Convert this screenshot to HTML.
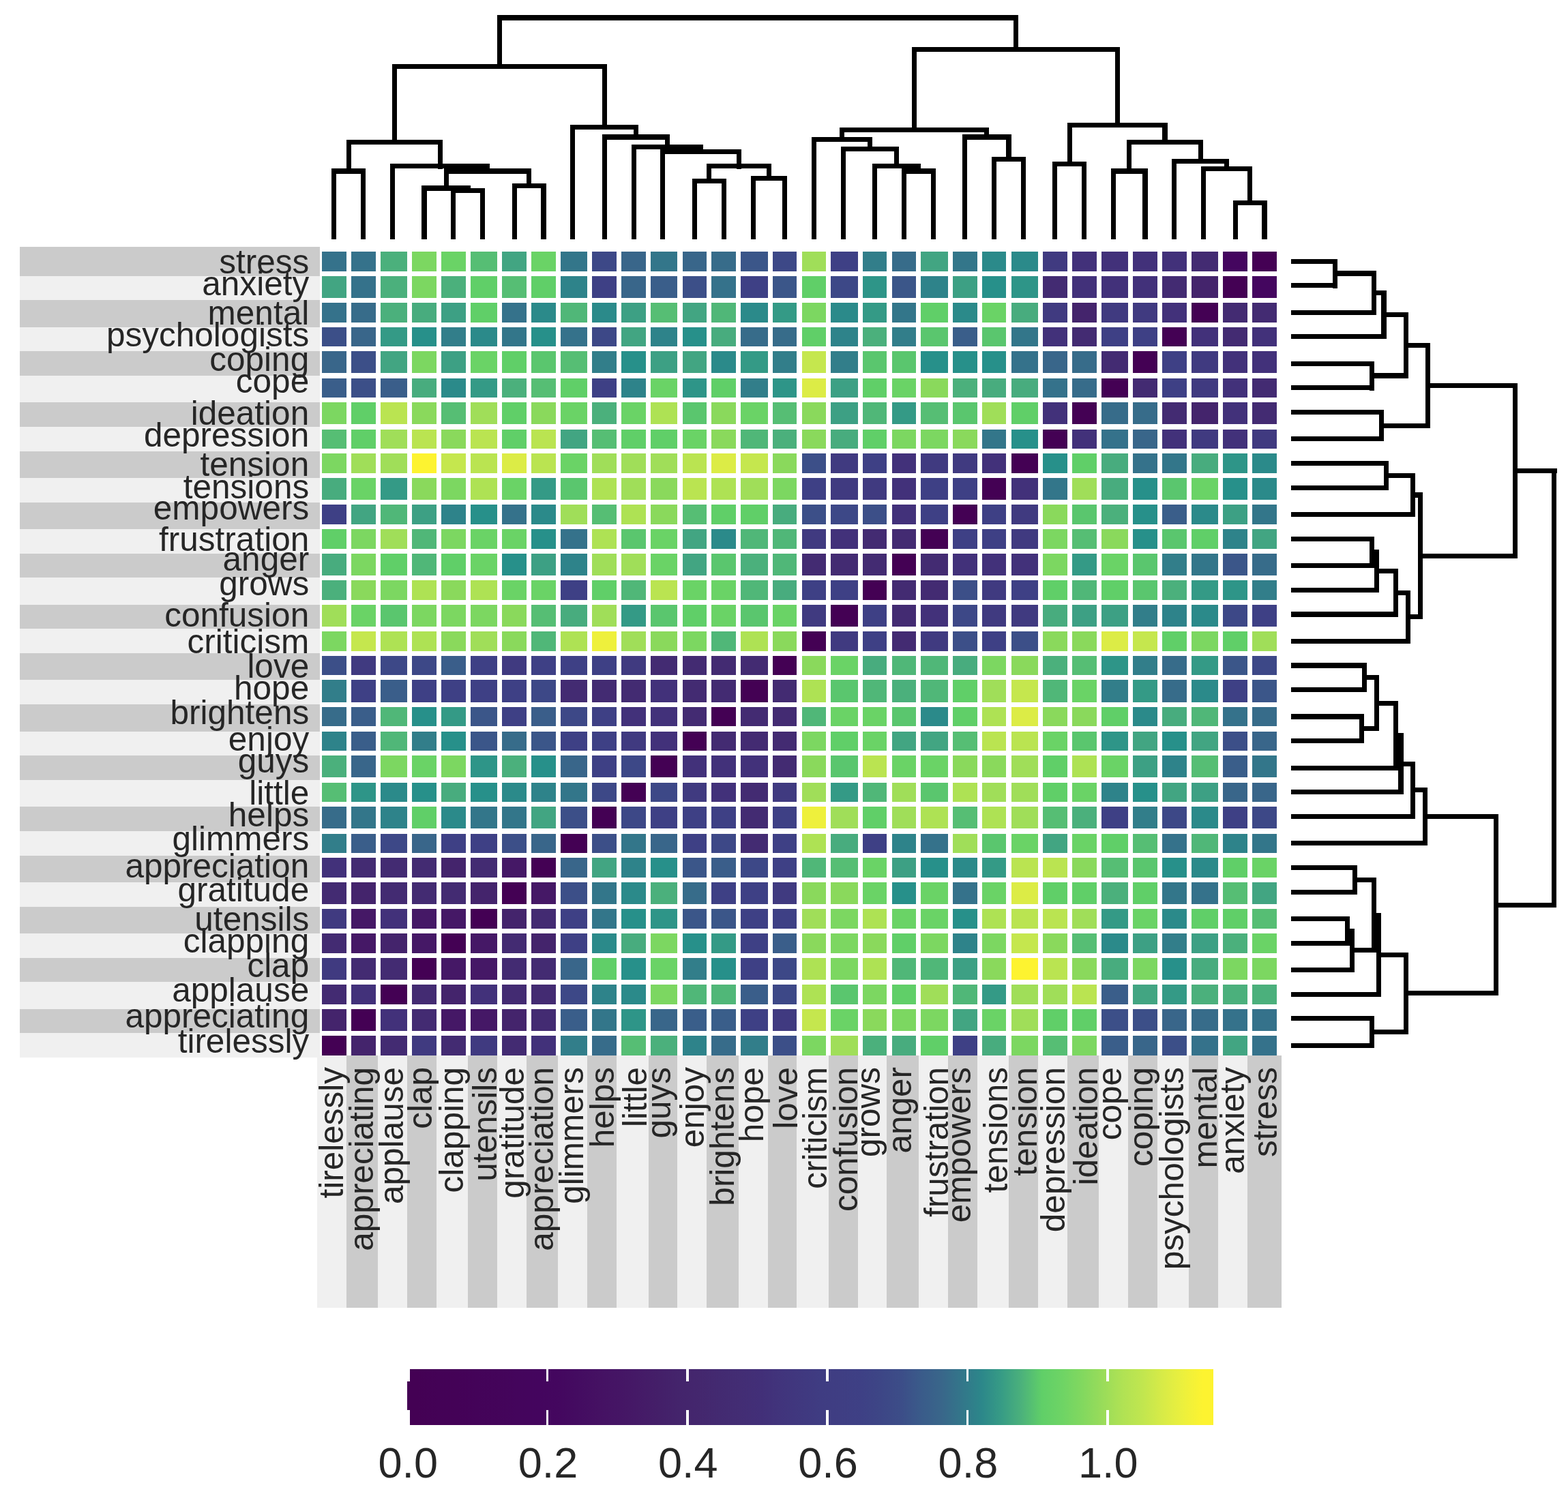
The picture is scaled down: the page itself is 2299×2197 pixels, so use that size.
<!DOCTYPE html>
<html lang="en"><head><meta charset="utf-8"><title>Clustered heatmap</title>
<style>html,body{margin:0;padding:0;background:#fff}svg{display:block}text{font-family:"Liberation Sans",sans-serif;fill:#262626}</style></head><body>
<svg width="2299" height="2197" viewBox="0 0 2299 2197">
<rect width="2299" height="2197" fill="#fff"/>
<g shape-rendering="crispEdges">
<rect x="29.3" y="361.7" width="439.2" height="42.9" fill="#cbcbcb"/>
<rect x="29.3" y="404.6" width="439.2" height="35.7" fill="#f0f0f0"/>
<rect x="29.3" y="440.3" width="439.2" height="39.3" fill="#cbcbcb"/>
<rect x="29.3" y="479.6" width="439.2" height="35.7" fill="#f0f0f0"/>
<rect x="29.3" y="515.3" width="439.2" height="35.7" fill="#cbcbcb"/>
<rect x="29.3" y="551.0" width="439.2" height="39.3" fill="#f0f0f0"/>
<rect x="29.3" y="590.3" width="439.2" height="35.7" fill="#cbcbcb"/>
<rect x="29.3" y="626.0" width="439.2" height="35.7" fill="#f0f0f0"/>
<rect x="29.3" y="661.7" width="439.2" height="39.3" fill="#cbcbcb"/>
<rect x="29.3" y="701.0" width="439.2" height="35.7" fill="#f0f0f0"/>
<rect x="29.3" y="736.7" width="439.2" height="39.3" fill="#cbcbcb"/>
<rect x="29.3" y="776.0" width="439.2" height="35.7" fill="#f0f0f0"/>
<rect x="29.3" y="811.7" width="439.2" height="35.7" fill="#cbcbcb"/>
<rect x="29.3" y="847.4" width="439.2" height="39.3" fill="#f0f0f0"/>
<rect x="29.3" y="886.7" width="439.2" height="35.7" fill="#cbcbcb"/>
<rect x="29.3" y="922.4" width="439.2" height="35.7" fill="#f0f0f0"/>
<rect x="29.3" y="958.2" width="439.2" height="39.3" fill="#cbcbcb"/>
<rect x="29.3" y="997.4" width="439.2" height="35.7" fill="#f0f0f0"/>
<rect x="29.3" y="1033.2" width="439.2" height="39.3" fill="#cbcbcb"/>
<rect x="29.3" y="1072.5" width="439.2" height="35.7" fill="#f0f0f0"/>
<rect x="29.3" y="1108.2" width="439.2" height="35.7" fill="#cbcbcb"/>
<rect x="29.3" y="1143.9" width="439.2" height="39.3" fill="#f0f0f0"/>
<rect x="29.3" y="1183.2" width="439.2" height="35.7" fill="#cbcbcb"/>
<rect x="29.3" y="1218.9" width="439.2" height="35.7" fill="#f0f0f0"/>
<rect x="29.3" y="1254.6" width="439.2" height="39.3" fill="#cbcbcb"/>
<rect x="29.3" y="1293.9" width="439.2" height="35.7" fill="#f0f0f0"/>
<rect x="29.3" y="1329.6" width="439.2" height="39.3" fill="#cbcbcb"/>
<rect x="29.3" y="1368.9" width="439.2" height="35.7" fill="#f0f0f0"/>
<rect x="29.3" y="1404.6" width="439.2" height="35.7" fill="#cbcbcb"/>
<rect x="29.3" y="1440.3" width="439.2" height="39.3" fill="#f0f0f0"/>
<rect x="29.3" y="1479.6" width="439.2" height="35.7" fill="#cbcbcb"/>
<rect x="29.3" y="1515.3" width="439.2" height="35.7" fill="#f0f0f0"/>
<rect x="464.8" y="1547.6" width="42.9" height="370.8" fill="#f0f0f0"/>
<rect x="507.7" y="1547.6" width="46.4" height="370.8" fill="#cbcbcb"/>
<rect x="554.1" y="1547.6" width="42.9" height="370.8" fill="#f0f0f0"/>
<rect x="597.0" y="1547.6" width="42.9" height="370.8" fill="#cbcbcb"/>
<rect x="639.8" y="1547.6" width="46.4" height="370.8" fill="#f0f0f0"/>
<rect x="686.2" y="1547.6" width="42.9" height="370.8" fill="#cbcbcb"/>
<rect x="729.1" y="1547.6" width="42.9" height="370.8" fill="#f0f0f0"/>
<rect x="771.9" y="1547.6" width="46.4" height="370.8" fill="#cbcbcb"/>
<rect x="818.4" y="1547.6" width="42.9" height="370.8" fill="#f0f0f0"/>
<rect x="861.2" y="1547.6" width="42.9" height="370.8" fill="#cbcbcb"/>
<rect x="904.1" y="1547.6" width="46.4" height="370.8" fill="#f0f0f0"/>
<rect x="950.5" y="1547.6" width="42.9" height="370.8" fill="#cbcbcb"/>
<rect x="993.3" y="1547.6" width="42.9" height="370.8" fill="#f0f0f0"/>
<rect x="1036.2" y="1547.6" width="46.4" height="370.8" fill="#cbcbcb"/>
<rect x="1082.6" y="1547.6" width="42.9" height="370.8" fill="#f0f0f0"/>
<rect x="1125.5" y="1547.6" width="42.9" height="370.8" fill="#cbcbcb"/>
<rect x="1168.3" y="1547.6" width="46.4" height="370.8" fill="#f0f0f0"/>
<rect x="1214.7" y="1547.6" width="42.9" height="370.8" fill="#cbcbcb"/>
<rect x="1257.6" y="1547.6" width="42.9" height="370.8" fill="#f0f0f0"/>
<rect x="1300.4" y="1547.6" width="46.4" height="370.8" fill="#cbcbcb"/>
<rect x="1346.9" y="1547.6" width="42.9" height="370.8" fill="#f0f0f0"/>
<rect x="1389.7" y="1547.6" width="42.9" height="370.8" fill="#cbcbcb"/>
<rect x="1432.6" y="1547.6" width="46.4" height="370.8" fill="#f0f0f0"/>
<rect x="1479.0" y="1547.6" width="42.9" height="370.8" fill="#cbcbcb"/>
<rect x="1521.8" y="1547.6" width="42.9" height="370.8" fill="#f0f0f0"/>
<rect x="1564.7" y="1547.6" width="46.4" height="370.8" fill="#cbcbcb"/>
<rect x="1611.1" y="1547.6" width="42.9" height="370.8" fill="#f0f0f0"/>
<rect x="1654.0" y="1547.6" width="42.9" height="370.8" fill="#cbcbcb"/>
<rect x="1696.8" y="1547.6" width="46.4" height="370.8" fill="#f0f0f0"/>
<rect x="1743.2" y="1547.6" width="42.9" height="370.8" fill="#cbcbcb"/>
<rect x="1786.1" y="1547.6" width="42.9" height="370.8" fill="#f0f0f0"/>
<rect x="1829.0" y="1547.6" width="50.0" height="370.8" fill="#cbcbcb"/>
</g>
<g shape-rendering="crispEdges">
<rect x="472.0" y="368.9" width="35.7" height="28.6" fill="#35728b"/>
<rect x="514.8" y="368.9" width="35.7" height="28.6" fill="#35728b"/>
<rect x="557.7" y="368.9" width="39.3" height="28.6" fill="#4bb07c"/>
<rect x="604.1" y="368.9" width="35.7" height="28.6" fill="#7cd761"/>
<rect x="647.0" y="368.9" width="35.7" height="28.6" fill="#6ad366"/>
<rect x="689.8" y="368.9" width="39.3" height="28.6" fill="#56be74"/>
<rect x="736.2" y="368.9" width="35.7" height="28.6" fill="#42a582"/>
<rect x="779.1" y="368.9" width="35.7" height="28.6" fill="#6ad366"/>
<rect x="821.9" y="368.9" width="39.3" height="28.6" fill="#33768a"/>
<rect x="868.4" y="368.9" width="35.7" height="28.6" fill="#3d4887"/>
<rect x="911.2" y="368.9" width="35.7" height="28.6" fill="#39668a"/>
<rect x="954.1" y="368.9" width="39.3" height="28.6" fill="#33768a"/>
<rect x="1000.5" y="368.9" width="35.7" height="28.6" fill="#39668a"/>
<rect x="1043.3" y="368.9" width="35.7" height="28.6" fill="#376c8a"/>
<rect x="1086.2" y="368.9" width="39.3" height="28.6" fill="#3b5689"/>
<rect x="1132.6" y="368.9" width="35.7" height="28.6" fill="#3d4887"/>
<rect x="1175.5" y="368.9" width="35.7" height="28.6" fill="#a0de59"/>
<rect x="1218.3" y="368.9" width="39.3" height="28.6" fill="#3e4085"/>
<rect x="1264.7" y="368.9" width="35.7" height="28.6" fill="#327e8a"/>
<rect x="1307.6" y="368.9" width="35.7" height="28.6" fill="#376c8a"/>
<rect x="1350.4" y="368.9" width="39.3" height="28.6" fill="#42a582"/>
<rect x="1396.9" y="368.9" width="35.7" height="28.6" fill="#33768a"/>
<rect x="1439.7" y="368.9" width="35.7" height="28.6" fill="#2b8a8a"/>
<rect x="1482.6" y="368.9" width="39.3" height="28.6" fill="#2b8a8a"/>
<rect x="1529.0" y="368.9" width="35.7" height="28.6" fill="#403a80"/>
<rect x="1571.8" y="368.9" width="35.7" height="28.6" fill="#42317a"/>
<rect x="1614.7" y="368.9" width="39.3" height="28.6" fill="#42317a"/>
<rect x="1661.1" y="368.9" width="35.7" height="28.6" fill="#42317a"/>
<rect x="1704.0" y="368.9" width="35.7" height="28.6" fill="#42317a"/>
<rect x="1746.8" y="368.9" width="39.3" height="28.6" fill="#432b72"/>
<rect x="1793.2" y="368.9" width="35.7" height="28.6" fill="#44065f"/>
<rect x="1836.1" y="368.9" width="35.7" height="28.6" fill="#440154"/>
<rect x="472.0" y="404.6" width="35.7" height="32.1" fill="#42a582"/>
<rect x="514.8" y="404.6" width="35.7" height="32.1" fill="#35728b"/>
<rect x="557.7" y="404.6" width="39.3" height="32.1" fill="#4bb07c"/>
<rect x="604.1" y="404.6" width="35.7" height="32.1" fill="#7cd761"/>
<rect x="647.0" y="404.6" width="35.7" height="32.1" fill="#4bb07c"/>
<rect x="689.8" y="404.6" width="39.3" height="32.1" fill="#60cf68"/>
<rect x="736.2" y="404.6" width="35.7" height="32.1" fill="#56be74"/>
<rect x="779.1" y="404.6" width="35.7" height="32.1" fill="#60cf68"/>
<rect x="821.9" y="404.6" width="39.3" height="32.1" fill="#2e838a"/>
<rect x="868.4" y="404.6" width="35.7" height="32.1" fill="#3e4085"/>
<rect x="911.2" y="404.6" width="35.7" height="32.1" fill="#39668a"/>
<rect x="954.1" y="404.6" width="39.3" height="32.1" fill="#3a5e8a"/>
<rect x="1000.5" y="404.6" width="35.7" height="32.1" fill="#3c4f88"/>
<rect x="1043.3" y="404.6" width="35.7" height="32.1" fill="#35728b"/>
<rect x="1086.2" y="404.6" width="39.3" height="32.1" fill="#3e4085"/>
<rect x="1132.6" y="404.6" width="35.7" height="32.1" fill="#3b5689"/>
<rect x="1175.5" y="404.6" width="35.7" height="32.1" fill="#60cf68"/>
<rect x="1218.3" y="404.6" width="39.3" height="32.1" fill="#3d4887"/>
<rect x="1264.7" y="404.6" width="35.7" height="32.1" fill="#2e9588"/>
<rect x="1307.6" y="404.6" width="35.7" height="32.1" fill="#3b5689"/>
<rect x="1350.4" y="404.6" width="39.3" height="32.1" fill="#2e838a"/>
<rect x="1396.9" y="404.6" width="35.7" height="32.1" fill="#3da084"/>
<rect x="1439.7" y="404.6" width="35.7" height="32.1" fill="#27908a"/>
<rect x="1482.6" y="404.6" width="39.3" height="32.1" fill="#2e9588"/>
<rect x="1529.0" y="404.6" width="35.7" height="32.1" fill="#432b72"/>
<rect x="1571.8" y="404.6" width="35.7" height="32.1" fill="#42317a"/>
<rect x="1614.7" y="404.6" width="39.3" height="32.1" fill="#42317a"/>
<rect x="1661.1" y="404.6" width="35.7" height="32.1" fill="#42317a"/>
<rect x="1704.0" y="404.6" width="35.7" height="32.1" fill="#432b72"/>
<rect x="1746.8" y="404.6" width="39.3" height="32.1" fill="#44246c"/>
<rect x="1793.2" y="404.6" width="35.7" height="32.1" fill="#440154"/>
<rect x="1836.1" y="404.6" width="35.7" height="32.1" fill="#44065f"/>
<rect x="472.0" y="443.9" width="35.7" height="28.6" fill="#35728b"/>
<rect x="514.8" y="443.9" width="35.7" height="28.6" fill="#376c8a"/>
<rect x="557.7" y="443.9" width="39.3" height="28.6" fill="#4bb07c"/>
<rect x="604.1" y="443.9" width="35.7" height="28.6" fill="#48ac7e"/>
<rect x="647.0" y="443.9" width="35.7" height="28.6" fill="#3da084"/>
<rect x="689.8" y="443.9" width="39.3" height="28.6" fill="#60cf68"/>
<rect x="736.2" y="443.9" width="35.7" height="28.6" fill="#35728b"/>
<rect x="779.1" y="443.9" width="35.7" height="28.6" fill="#2b8a8a"/>
<rect x="821.9" y="443.9" width="39.3" height="28.6" fill="#50b778"/>
<rect x="868.4" y="443.9" width="35.7" height="28.6" fill="#2b8a8a"/>
<rect x="911.2" y="443.9" width="35.7" height="28.6" fill="#3da084"/>
<rect x="954.1" y="443.9" width="39.3" height="28.6" fill="#56be74"/>
<rect x="1000.5" y="443.9" width="35.7" height="28.6" fill="#42a582"/>
<rect x="1043.3" y="443.9" width="35.7" height="28.6" fill="#50b778"/>
<rect x="1086.2" y="443.9" width="39.3" height="28.6" fill="#2b8a8a"/>
<rect x="1132.6" y="443.9" width="35.7" height="28.6" fill="#349a86"/>
<rect x="1175.5" y="443.9" width="35.7" height="28.6" fill="#7cd761"/>
<rect x="1218.3" y="443.9" width="39.3" height="28.6" fill="#2b8a8a"/>
<rect x="1264.7" y="443.9" width="35.7" height="28.6" fill="#349a86"/>
<rect x="1307.6" y="443.9" width="35.7" height="28.6" fill="#33768a"/>
<rect x="1350.4" y="443.9" width="39.3" height="28.6" fill="#60cf68"/>
<rect x="1396.9" y="443.9" width="35.7" height="28.6" fill="#2b8a8a"/>
<rect x="1439.7" y="443.9" width="35.7" height="28.6" fill="#6ad366"/>
<rect x="1482.6" y="443.9" width="39.3" height="28.6" fill="#48ac7e"/>
<rect x="1529.0" y="443.9" width="35.7" height="28.6" fill="#403a80"/>
<rect x="1571.8" y="443.9" width="35.7" height="28.6" fill="#44246c"/>
<rect x="1614.7" y="443.9" width="39.3" height="28.6" fill="#403a80"/>
<rect x="1661.1" y="443.9" width="35.7" height="28.6" fill="#403a80"/>
<rect x="1704.0" y="443.9" width="35.7" height="28.6" fill="#42317a"/>
<rect x="1746.8" y="443.9" width="39.3" height="28.6" fill="#440154"/>
<rect x="1793.2" y="443.9" width="35.7" height="28.6" fill="#432b72"/>
<rect x="1836.1" y="443.9" width="35.7" height="28.6" fill="#432b72"/>
<rect x="472.0" y="479.6" width="35.7" height="28.6" fill="#3c4f88"/>
<rect x="514.8" y="479.6" width="35.7" height="28.6" fill="#39668a"/>
<rect x="557.7" y="479.6" width="39.3" height="28.6" fill="#349a86"/>
<rect x="604.1" y="479.6" width="35.7" height="28.6" fill="#27908a"/>
<rect x="647.0" y="479.6" width="35.7" height="28.6" fill="#327e8a"/>
<rect x="689.8" y="479.6" width="39.3" height="28.6" fill="#2b8a8a"/>
<rect x="736.2" y="479.6" width="35.7" height="28.6" fill="#33768a"/>
<rect x="779.1" y="479.6" width="35.7" height="28.6" fill="#27908a"/>
<rect x="821.9" y="479.6" width="39.3" height="28.6" fill="#35728b"/>
<rect x="868.4" y="479.6" width="35.7" height="28.6" fill="#3d4887"/>
<rect x="911.2" y="479.6" width="35.7" height="28.6" fill="#42a582"/>
<rect x="954.1" y="479.6" width="39.3" height="28.6" fill="#2e838a"/>
<rect x="1000.5" y="479.6" width="35.7" height="28.6" fill="#27908a"/>
<rect x="1043.3" y="479.6" width="35.7" height="28.6" fill="#48ac7e"/>
<rect x="1086.2" y="479.6" width="39.3" height="28.6" fill="#376c8a"/>
<rect x="1132.6" y="479.6" width="35.7" height="28.6" fill="#376c8a"/>
<rect x="1175.5" y="479.6" width="35.7" height="28.6" fill="#60cf68"/>
<rect x="1218.3" y="479.6" width="39.3" height="28.6" fill="#2e838a"/>
<rect x="1264.7" y="479.6" width="35.7" height="28.6" fill="#4bb07c"/>
<rect x="1307.6" y="479.6" width="35.7" height="28.6" fill="#327e8a"/>
<rect x="1350.4" y="479.6" width="39.3" height="28.6" fill="#5ac66e"/>
<rect x="1396.9" y="479.6" width="35.7" height="28.6" fill="#3a5e8a"/>
<rect x="1439.7" y="479.6" width="35.7" height="28.6" fill="#5ac66e"/>
<rect x="1482.6" y="479.6" width="39.3" height="28.6" fill="#33768a"/>
<rect x="1529.0" y="479.6" width="35.7" height="28.6" fill="#42317a"/>
<rect x="1571.8" y="479.6" width="35.7" height="28.6" fill="#432b72"/>
<rect x="1614.7" y="479.6" width="39.3" height="28.6" fill="#3e4085"/>
<rect x="1661.1" y="479.6" width="35.7" height="28.6" fill="#3e4085"/>
<rect x="1704.0" y="479.6" width="35.7" height="28.6" fill="#440154"/>
<rect x="1746.8" y="479.6" width="39.3" height="28.6" fill="#42317a"/>
<rect x="1793.2" y="479.6" width="35.7" height="28.6" fill="#432b72"/>
<rect x="1836.1" y="479.6" width="35.7" height="28.6" fill="#42317a"/>
<rect x="472.0" y="515.3" width="35.7" height="32.1" fill="#39668a"/>
<rect x="514.8" y="515.3" width="35.7" height="32.1" fill="#3c4f88"/>
<rect x="557.7" y="515.3" width="39.3" height="32.1" fill="#42a582"/>
<rect x="604.1" y="515.3" width="35.7" height="32.1" fill="#7cd761"/>
<rect x="647.0" y="515.3" width="35.7" height="32.1" fill="#3da084"/>
<rect x="689.8" y="515.3" width="39.3" height="32.1" fill="#6ad366"/>
<rect x="736.2" y="515.3" width="35.7" height="32.1" fill="#60cf68"/>
<rect x="779.1" y="515.3" width="35.7" height="32.1" fill="#5ac66e"/>
<rect x="821.9" y="515.3" width="39.3" height="32.1" fill="#56be74"/>
<rect x="868.4" y="515.3" width="35.7" height="32.1" fill="#327e8a"/>
<rect x="911.2" y="515.3" width="35.7" height="32.1" fill="#27908a"/>
<rect x="954.1" y="515.3" width="39.3" height="32.1" fill="#3da084"/>
<rect x="1000.5" y="515.3" width="35.7" height="32.1" fill="#42a582"/>
<rect x="1043.3" y="515.3" width="35.7" height="32.1" fill="#2b8a8a"/>
<rect x="1086.2" y="515.3" width="39.3" height="32.1" fill="#349a86"/>
<rect x="1132.6" y="515.3" width="35.7" height="32.1" fill="#327e8a"/>
<rect x="1175.5" y="515.3" width="35.7" height="32.1" fill="#c5e74e"/>
<rect x="1218.3" y="515.3" width="39.3" height="32.1" fill="#327e8a"/>
<rect x="1264.7" y="515.3" width="35.7" height="32.1" fill="#5ac66e"/>
<rect x="1307.6" y="515.3" width="35.7" height="32.1" fill="#5ac66e"/>
<rect x="1350.4" y="515.3" width="39.3" height="32.1" fill="#27908a"/>
<rect x="1396.9" y="515.3" width="35.7" height="32.1" fill="#27908a"/>
<rect x="1439.7" y="515.3" width="35.7" height="32.1" fill="#27908a"/>
<rect x="1482.6" y="515.3" width="39.3" height="32.1" fill="#35728b"/>
<rect x="1529.0" y="515.3" width="35.7" height="32.1" fill="#39668a"/>
<rect x="1571.8" y="515.3" width="35.7" height="32.1" fill="#376c8a"/>
<rect x="1614.7" y="515.3" width="39.3" height="32.1" fill="#432b72"/>
<rect x="1661.1" y="515.3" width="35.7" height="32.1" fill="#440154"/>
<rect x="1704.0" y="515.3" width="35.7" height="32.1" fill="#3e4085"/>
<rect x="1746.8" y="515.3" width="39.3" height="32.1" fill="#403a80"/>
<rect x="1793.2" y="515.3" width="35.7" height="32.1" fill="#42317a"/>
<rect x="1836.1" y="515.3" width="35.7" height="32.1" fill="#42317a"/>
<rect x="472.0" y="554.6" width="35.7" height="28.6" fill="#3a5e8a"/>
<rect x="514.8" y="554.6" width="35.7" height="28.6" fill="#3c4f88"/>
<rect x="557.7" y="554.6" width="39.3" height="28.6" fill="#3a5e8a"/>
<rect x="604.1" y="554.6" width="35.7" height="28.6" fill="#48ac7e"/>
<rect x="647.0" y="554.6" width="35.7" height="28.6" fill="#2b8a8a"/>
<rect x="689.8" y="554.6" width="39.3" height="28.6" fill="#349a86"/>
<rect x="736.2" y="554.6" width="35.7" height="28.6" fill="#4bb07c"/>
<rect x="779.1" y="554.6" width="35.7" height="28.6" fill="#56be74"/>
<rect x="821.9" y="554.6" width="39.3" height="28.6" fill="#60cf68"/>
<rect x="868.4" y="554.6" width="35.7" height="28.6" fill="#3e4085"/>
<rect x="911.2" y="554.6" width="35.7" height="28.6" fill="#2e838a"/>
<rect x="954.1" y="554.6" width="39.3" height="28.6" fill="#6ad366"/>
<rect x="1000.5" y="554.6" width="35.7" height="28.6" fill="#2e9588"/>
<rect x="1043.3" y="554.6" width="35.7" height="28.6" fill="#60cf68"/>
<rect x="1086.2" y="554.6" width="39.3" height="28.6" fill="#327e8a"/>
<rect x="1132.6" y="554.6" width="35.7" height="28.6" fill="#2e9588"/>
<rect x="1175.5" y="554.6" width="35.7" height="28.6" fill="#dcec46"/>
<rect x="1218.3" y="554.6" width="39.3" height="28.6" fill="#3da084"/>
<rect x="1264.7" y="554.6" width="35.7" height="28.6" fill="#60cf68"/>
<rect x="1307.6" y="554.6" width="35.7" height="28.6" fill="#6ad366"/>
<rect x="1350.4" y="554.6" width="39.3" height="28.6" fill="#8ad95c"/>
<rect x="1396.9" y="554.6" width="35.7" height="28.6" fill="#4bb07c"/>
<rect x="1439.7" y="554.6" width="35.7" height="28.6" fill="#48ac7e"/>
<rect x="1482.6" y="554.6" width="39.3" height="28.6" fill="#48ac7e"/>
<rect x="1529.0" y="554.6" width="35.7" height="28.6" fill="#35728b"/>
<rect x="1571.8" y="554.6" width="35.7" height="28.6" fill="#376c8a"/>
<rect x="1614.7" y="554.6" width="39.3" height="28.6" fill="#440154"/>
<rect x="1661.1" y="554.6" width="35.7" height="28.6" fill="#432b72"/>
<rect x="1704.0" y="554.6" width="35.7" height="28.6" fill="#3e4085"/>
<rect x="1746.8" y="554.6" width="39.3" height="28.6" fill="#403a80"/>
<rect x="1793.2" y="554.6" width="35.7" height="28.6" fill="#42317a"/>
<rect x="1836.1" y="554.6" width="35.7" height="28.6" fill="#432b72"/>
<rect x="472.0" y="590.3" width="35.7" height="32.1" fill="#7cd761"/>
<rect x="514.8" y="590.3" width="35.7" height="32.1" fill="#60cf68"/>
<rect x="557.7" y="590.3" width="39.3" height="32.1" fill="#bae451"/>
<rect x="604.1" y="590.3" width="35.7" height="32.1" fill="#8ad95c"/>
<rect x="647.0" y="590.3" width="35.7" height="32.1" fill="#56be74"/>
<rect x="689.8" y="590.3" width="39.3" height="32.1" fill="#a0de59"/>
<rect x="736.2" y="590.3" width="35.7" height="32.1" fill="#60cf68"/>
<rect x="779.1" y="590.3" width="35.7" height="32.1" fill="#8ad95c"/>
<rect x="821.9" y="590.3" width="39.3" height="32.1" fill="#6ad366"/>
<rect x="868.4" y="590.3" width="35.7" height="32.1" fill="#4bb07c"/>
<rect x="911.2" y="590.3" width="35.7" height="32.1" fill="#6ad366"/>
<rect x="954.1" y="590.3" width="39.3" height="32.1" fill="#aee254"/>
<rect x="1000.5" y="590.3" width="35.7" height="32.1" fill="#5ac66e"/>
<rect x="1043.3" y="590.3" width="35.7" height="32.1" fill="#8ad95c"/>
<rect x="1086.2" y="590.3" width="39.3" height="32.1" fill="#6ad366"/>
<rect x="1132.6" y="590.3" width="35.7" height="32.1" fill="#56be74"/>
<rect x="1175.5" y="590.3" width="35.7" height="32.1" fill="#8ad95c"/>
<rect x="1218.3" y="590.3" width="39.3" height="32.1" fill="#3da084"/>
<rect x="1264.7" y="590.3" width="35.7" height="32.1" fill="#50b778"/>
<rect x="1307.6" y="590.3" width="35.7" height="32.1" fill="#349a86"/>
<rect x="1350.4" y="590.3" width="39.3" height="32.1" fill="#56be74"/>
<rect x="1396.9" y="590.3" width="35.7" height="32.1" fill="#5ac66e"/>
<rect x="1439.7" y="590.3" width="35.7" height="32.1" fill="#a0de59"/>
<rect x="1482.6" y="590.3" width="39.3" height="32.1" fill="#60cf68"/>
<rect x="1529.0" y="590.3" width="35.7" height="32.1" fill="#42317a"/>
<rect x="1571.8" y="590.3" width="35.7" height="32.1" fill="#440154"/>
<rect x="1614.7" y="590.3" width="39.3" height="32.1" fill="#376c8a"/>
<rect x="1661.1" y="590.3" width="35.7" height="32.1" fill="#376c8a"/>
<rect x="1704.0" y="590.3" width="35.7" height="32.1" fill="#432b72"/>
<rect x="1746.8" y="590.3" width="39.3" height="32.1" fill="#44246c"/>
<rect x="1793.2" y="590.3" width="35.7" height="32.1" fill="#42317a"/>
<rect x="1836.1" y="590.3" width="35.7" height="32.1" fill="#432b72"/>
<rect x="472.0" y="629.6" width="35.7" height="28.6" fill="#56be74"/>
<rect x="514.8" y="629.6" width="35.7" height="28.6" fill="#60cf68"/>
<rect x="557.7" y="629.6" width="39.3" height="28.6" fill="#a0de59"/>
<rect x="604.1" y="629.6" width="35.7" height="28.6" fill="#bae451"/>
<rect x="647.0" y="629.6" width="35.7" height="28.6" fill="#8ad95c"/>
<rect x="689.8" y="629.6" width="39.3" height="28.6" fill="#bae451"/>
<rect x="736.2" y="629.6" width="35.7" height="28.6" fill="#60cf68"/>
<rect x="779.1" y="629.6" width="35.7" height="28.6" fill="#bae451"/>
<rect x="821.9" y="629.6" width="39.3" height="28.6" fill="#42a582"/>
<rect x="868.4" y="629.6" width="35.7" height="28.6" fill="#56be74"/>
<rect x="911.2" y="629.6" width="35.7" height="28.6" fill="#60cf68"/>
<rect x="954.1" y="629.6" width="39.3" height="28.6" fill="#60cf68"/>
<rect x="1000.5" y="629.6" width="35.7" height="28.6" fill="#6ad366"/>
<rect x="1043.3" y="629.6" width="35.7" height="28.6" fill="#8ad95c"/>
<rect x="1086.2" y="629.6" width="39.3" height="28.6" fill="#50b778"/>
<rect x="1132.6" y="629.6" width="35.7" height="28.6" fill="#4bb07c"/>
<rect x="1175.5" y="629.6" width="35.7" height="28.6" fill="#8ad95c"/>
<rect x="1218.3" y="629.6" width="39.3" height="28.6" fill="#48ac7e"/>
<rect x="1264.7" y="629.6" width="35.7" height="28.6" fill="#60cf68"/>
<rect x="1307.6" y="629.6" width="35.7" height="28.6" fill="#7cd761"/>
<rect x="1350.4" y="629.6" width="39.3" height="28.6" fill="#7cd761"/>
<rect x="1396.9" y="629.6" width="35.7" height="28.6" fill="#8ad95c"/>
<rect x="1439.7" y="629.6" width="35.7" height="28.6" fill="#33768a"/>
<rect x="1482.6" y="629.6" width="39.3" height="28.6" fill="#27908a"/>
<rect x="1529.0" y="629.6" width="35.7" height="28.6" fill="#440154"/>
<rect x="1571.8" y="629.6" width="35.7" height="28.6" fill="#42317a"/>
<rect x="1614.7" y="629.6" width="39.3" height="28.6" fill="#35728b"/>
<rect x="1661.1" y="629.6" width="35.7" height="28.6" fill="#39668a"/>
<rect x="1704.0" y="629.6" width="35.7" height="28.6" fill="#42317a"/>
<rect x="1746.8" y="629.6" width="39.3" height="28.6" fill="#403a80"/>
<rect x="1793.2" y="629.6" width="35.7" height="28.6" fill="#42317a"/>
<rect x="1836.1" y="629.6" width="35.7" height="28.6" fill="#403a80"/>
<rect x="472.0" y="665.3" width="35.7" height="28.6" fill="#7cd761"/>
<rect x="514.8" y="665.3" width="35.7" height="28.6" fill="#a0de59"/>
<rect x="557.7" y="665.3" width="39.3" height="28.6" fill="#a0de59"/>
<rect x="604.1" y="665.3" width="35.7" height="28.6" fill="#fdf330"/>
<rect x="647.0" y="665.3" width="35.7" height="28.6" fill="#c5e74e"/>
<rect x="689.8" y="665.3" width="39.3" height="28.6" fill="#bae451"/>
<rect x="736.2" y="665.3" width="35.7" height="28.6" fill="#dcec46"/>
<rect x="779.1" y="665.3" width="35.7" height="28.6" fill="#bae451"/>
<rect x="821.9" y="665.3" width="39.3" height="28.6" fill="#6ad366"/>
<rect x="868.4" y="665.3" width="35.7" height="28.6" fill="#a0de59"/>
<rect x="911.2" y="665.3" width="35.7" height="28.6" fill="#a0de59"/>
<rect x="954.1" y="665.3" width="39.3" height="28.6" fill="#a0de59"/>
<rect x="1000.5" y="665.3" width="35.7" height="28.6" fill="#bae451"/>
<rect x="1043.3" y="665.3" width="35.7" height="28.6" fill="#dcec46"/>
<rect x="1086.2" y="665.3" width="39.3" height="28.6" fill="#c5e74e"/>
<rect x="1132.6" y="665.3" width="35.7" height="28.6" fill="#8ad95c"/>
<rect x="1175.5" y="665.3" width="35.7" height="28.6" fill="#3c4f88"/>
<rect x="1218.3" y="665.3" width="39.3" height="28.6" fill="#403a80"/>
<rect x="1264.7" y="665.3" width="35.7" height="28.6" fill="#3e4085"/>
<rect x="1307.6" y="665.3" width="35.7" height="28.6" fill="#42317a"/>
<rect x="1350.4" y="665.3" width="39.3" height="28.6" fill="#403a80"/>
<rect x="1396.9" y="665.3" width="35.7" height="28.6" fill="#403a80"/>
<rect x="1439.7" y="665.3" width="35.7" height="28.6" fill="#42317a"/>
<rect x="1482.6" y="665.3" width="39.3" height="28.6" fill="#440154"/>
<rect x="1529.0" y="665.3" width="35.7" height="28.6" fill="#27908a"/>
<rect x="1571.8" y="665.3" width="35.7" height="28.6" fill="#60cf68"/>
<rect x="1614.7" y="665.3" width="39.3" height="28.6" fill="#48ac7e"/>
<rect x="1661.1" y="665.3" width="35.7" height="28.6" fill="#35728b"/>
<rect x="1704.0" y="665.3" width="35.7" height="28.6" fill="#33768a"/>
<rect x="1746.8" y="665.3" width="39.3" height="28.6" fill="#48ac7e"/>
<rect x="1793.2" y="665.3" width="35.7" height="28.6" fill="#2e9588"/>
<rect x="1836.1" y="665.3" width="35.7" height="28.6" fill="#2b8a8a"/>
<rect x="472.0" y="701.0" width="35.7" height="32.1" fill="#48ac7e"/>
<rect x="514.8" y="701.0" width="35.7" height="32.1" fill="#6ad366"/>
<rect x="557.7" y="701.0" width="39.3" height="32.1" fill="#349a86"/>
<rect x="604.1" y="701.0" width="35.7" height="32.1" fill="#8ad95c"/>
<rect x="647.0" y="701.0" width="35.7" height="32.1" fill="#7cd761"/>
<rect x="689.8" y="701.0" width="39.3" height="32.1" fill="#aee254"/>
<rect x="736.2" y="701.0" width="35.7" height="32.1" fill="#6ad366"/>
<rect x="779.1" y="701.0" width="35.7" height="32.1" fill="#349a86"/>
<rect x="821.9" y="701.0" width="39.3" height="32.1" fill="#5ac66e"/>
<rect x="868.4" y="701.0" width="35.7" height="32.1" fill="#aee254"/>
<rect x="911.2" y="701.0" width="35.7" height="32.1" fill="#a0de59"/>
<rect x="954.1" y="701.0" width="39.3" height="32.1" fill="#8ad95c"/>
<rect x="1000.5" y="701.0" width="35.7" height="32.1" fill="#bae451"/>
<rect x="1043.3" y="701.0" width="35.7" height="32.1" fill="#aee254"/>
<rect x="1086.2" y="701.0" width="39.3" height="32.1" fill="#a0de59"/>
<rect x="1132.6" y="701.0" width="35.7" height="32.1" fill="#7cd761"/>
<rect x="1175.5" y="701.0" width="35.7" height="32.1" fill="#3e4085"/>
<rect x="1218.3" y="701.0" width="39.3" height="32.1" fill="#403a80"/>
<rect x="1264.7" y="701.0" width="35.7" height="32.1" fill="#403a80"/>
<rect x="1307.6" y="701.0" width="35.7" height="32.1" fill="#42317a"/>
<rect x="1350.4" y="701.0" width="39.3" height="32.1" fill="#3e4085"/>
<rect x="1396.9" y="701.0" width="35.7" height="32.1" fill="#3e4085"/>
<rect x="1439.7" y="701.0" width="35.7" height="32.1" fill="#440154"/>
<rect x="1482.6" y="701.0" width="39.3" height="32.1" fill="#42317a"/>
<rect x="1529.0" y="701.0" width="35.7" height="32.1" fill="#33768a"/>
<rect x="1571.8" y="701.0" width="35.7" height="32.1" fill="#a0de59"/>
<rect x="1614.7" y="701.0" width="39.3" height="32.1" fill="#48ac7e"/>
<rect x="1661.1" y="701.0" width="35.7" height="32.1" fill="#27908a"/>
<rect x="1704.0" y="701.0" width="35.7" height="32.1" fill="#5ac66e"/>
<rect x="1746.8" y="701.0" width="39.3" height="32.1" fill="#6ad366"/>
<rect x="1793.2" y="701.0" width="35.7" height="32.1" fill="#27908a"/>
<rect x="1836.1" y="701.0" width="35.7" height="32.1" fill="#2b8a8a"/>
<rect x="472.0" y="740.3" width="35.7" height="28.6" fill="#3e4085"/>
<rect x="514.8" y="740.3" width="35.7" height="28.6" fill="#42a582"/>
<rect x="557.7" y="740.3" width="39.3" height="28.6" fill="#50b778"/>
<rect x="604.1" y="740.3" width="35.7" height="28.6" fill="#3da084"/>
<rect x="647.0" y="740.3" width="35.7" height="28.6" fill="#2e838a"/>
<rect x="689.8" y="740.3" width="39.3" height="28.6" fill="#27908a"/>
<rect x="736.2" y="740.3" width="35.7" height="28.6" fill="#35728b"/>
<rect x="779.1" y="740.3" width="35.7" height="28.6" fill="#2b8a8a"/>
<rect x="821.9" y="740.3" width="39.3" height="28.6" fill="#a0de59"/>
<rect x="868.4" y="740.3" width="35.7" height="28.6" fill="#56be74"/>
<rect x="911.2" y="740.3" width="35.7" height="28.6" fill="#aee254"/>
<rect x="954.1" y="740.3" width="39.3" height="28.6" fill="#8ad95c"/>
<rect x="1000.5" y="740.3" width="35.7" height="28.6" fill="#56be74"/>
<rect x="1043.3" y="740.3" width="35.7" height="28.6" fill="#60cf68"/>
<rect x="1086.2" y="740.3" width="39.3" height="28.6" fill="#60cf68"/>
<rect x="1132.6" y="740.3" width="35.7" height="28.6" fill="#48ac7e"/>
<rect x="1175.5" y="740.3" width="35.7" height="28.6" fill="#3c4f88"/>
<rect x="1218.3" y="740.3" width="39.3" height="28.6" fill="#3d4887"/>
<rect x="1264.7" y="740.3" width="35.7" height="28.6" fill="#3c4f88"/>
<rect x="1307.6" y="740.3" width="35.7" height="28.6" fill="#42317a"/>
<rect x="1350.4" y="740.3" width="39.3" height="28.6" fill="#3e4085"/>
<rect x="1396.9" y="740.3" width="35.7" height="28.6" fill="#440154"/>
<rect x="1439.7" y="740.3" width="35.7" height="28.6" fill="#3e4085"/>
<rect x="1482.6" y="740.3" width="39.3" height="28.6" fill="#403a80"/>
<rect x="1529.0" y="740.3" width="35.7" height="28.6" fill="#8ad95c"/>
<rect x="1571.8" y="740.3" width="35.7" height="28.6" fill="#5ac66e"/>
<rect x="1614.7" y="740.3" width="39.3" height="28.6" fill="#4bb07c"/>
<rect x="1661.1" y="740.3" width="35.7" height="28.6" fill="#27908a"/>
<rect x="1704.0" y="740.3" width="35.7" height="28.6" fill="#3a5e8a"/>
<rect x="1746.8" y="740.3" width="39.3" height="28.6" fill="#2b8a8a"/>
<rect x="1793.2" y="740.3" width="35.7" height="28.6" fill="#3da084"/>
<rect x="1836.1" y="740.3" width="35.7" height="28.6" fill="#33768a"/>
<rect x="472.0" y="776.0" width="35.7" height="28.6" fill="#60cf68"/>
<rect x="514.8" y="776.0" width="35.7" height="28.6" fill="#7cd761"/>
<rect x="557.7" y="776.0" width="39.3" height="28.6" fill="#a0de59"/>
<rect x="604.1" y="776.0" width="35.7" height="28.6" fill="#50b778"/>
<rect x="647.0" y="776.0" width="35.7" height="28.6" fill="#7cd761"/>
<rect x="689.8" y="776.0" width="39.3" height="28.6" fill="#6ad366"/>
<rect x="736.2" y="776.0" width="35.7" height="28.6" fill="#6ad366"/>
<rect x="779.1" y="776.0" width="35.7" height="28.6" fill="#27908a"/>
<rect x="821.9" y="776.0" width="39.3" height="28.6" fill="#35728b"/>
<rect x="868.4" y="776.0" width="35.7" height="28.6" fill="#aee254"/>
<rect x="911.2" y="776.0" width="35.7" height="28.6" fill="#5ac66e"/>
<rect x="954.1" y="776.0" width="39.3" height="28.6" fill="#6ad366"/>
<rect x="1000.5" y="776.0" width="35.7" height="28.6" fill="#42a582"/>
<rect x="1043.3" y="776.0" width="35.7" height="28.6" fill="#2b8a8a"/>
<rect x="1086.2" y="776.0" width="39.3" height="28.6" fill="#50b778"/>
<rect x="1132.6" y="776.0" width="35.7" height="28.6" fill="#50b778"/>
<rect x="1175.5" y="776.0" width="35.7" height="28.6" fill="#403a80"/>
<rect x="1218.3" y="776.0" width="39.3" height="28.6" fill="#42317a"/>
<rect x="1264.7" y="776.0" width="35.7" height="28.6" fill="#432b72"/>
<rect x="1307.6" y="776.0" width="35.7" height="28.6" fill="#432b72"/>
<rect x="1350.4" y="776.0" width="39.3" height="28.6" fill="#440154"/>
<rect x="1396.9" y="776.0" width="35.7" height="28.6" fill="#3e4085"/>
<rect x="1439.7" y="776.0" width="35.7" height="28.6" fill="#3e4085"/>
<rect x="1482.6" y="776.0" width="39.3" height="28.6" fill="#403a80"/>
<rect x="1529.0" y="776.0" width="35.7" height="28.6" fill="#7cd761"/>
<rect x="1571.8" y="776.0" width="35.7" height="28.6" fill="#56be74"/>
<rect x="1614.7" y="776.0" width="39.3" height="28.6" fill="#8ad95c"/>
<rect x="1661.1" y="776.0" width="35.7" height="28.6" fill="#27908a"/>
<rect x="1704.0" y="776.0" width="35.7" height="28.6" fill="#5ac66e"/>
<rect x="1746.8" y="776.0" width="39.3" height="28.6" fill="#60cf68"/>
<rect x="1793.2" y="776.0" width="35.7" height="28.6" fill="#2e838a"/>
<rect x="1836.1" y="776.0" width="35.7" height="28.6" fill="#42a582"/>
<rect x="472.0" y="811.7" width="35.7" height="32.1" fill="#48ac7e"/>
<rect x="514.8" y="811.7" width="35.7" height="32.1" fill="#7cd761"/>
<rect x="557.7" y="811.7" width="39.3" height="32.1" fill="#60cf68"/>
<rect x="604.1" y="811.7" width="35.7" height="32.1" fill="#50b778"/>
<rect x="647.0" y="811.7" width="35.7" height="32.1" fill="#60cf68"/>
<rect x="689.8" y="811.7" width="39.3" height="32.1" fill="#6ad366"/>
<rect x="736.2" y="811.7" width="35.7" height="32.1" fill="#27908a"/>
<rect x="779.1" y="811.7" width="35.7" height="32.1" fill="#3da084"/>
<rect x="821.9" y="811.7" width="39.3" height="32.1" fill="#2e838a"/>
<rect x="868.4" y="811.7" width="35.7" height="32.1" fill="#a0de59"/>
<rect x="911.2" y="811.7" width="35.7" height="32.1" fill="#a0de59"/>
<rect x="954.1" y="811.7" width="39.3" height="32.1" fill="#6ad366"/>
<rect x="1000.5" y="811.7" width="35.7" height="32.1" fill="#42a582"/>
<rect x="1043.3" y="811.7" width="35.7" height="32.1" fill="#5ac66e"/>
<rect x="1086.2" y="811.7" width="39.3" height="32.1" fill="#4bb07c"/>
<rect x="1132.6" y="811.7" width="35.7" height="32.1" fill="#50b778"/>
<rect x="1175.5" y="811.7" width="35.7" height="32.1" fill="#432b72"/>
<rect x="1218.3" y="811.7" width="39.3" height="32.1" fill="#432b72"/>
<rect x="1264.7" y="811.7" width="35.7" height="32.1" fill="#432b72"/>
<rect x="1307.6" y="811.7" width="35.7" height="32.1" fill="#440154"/>
<rect x="1350.4" y="811.7" width="39.3" height="32.1" fill="#432b72"/>
<rect x="1396.9" y="811.7" width="35.7" height="32.1" fill="#42317a"/>
<rect x="1439.7" y="811.7" width="35.7" height="32.1" fill="#42317a"/>
<rect x="1482.6" y="811.7" width="39.3" height="32.1" fill="#42317a"/>
<rect x="1529.0" y="811.7" width="35.7" height="32.1" fill="#7cd761"/>
<rect x="1571.8" y="811.7" width="35.7" height="32.1" fill="#349a86"/>
<rect x="1614.7" y="811.7" width="39.3" height="32.1" fill="#6ad366"/>
<rect x="1661.1" y="811.7" width="35.7" height="32.1" fill="#5ac66e"/>
<rect x="1704.0" y="811.7" width="35.7" height="32.1" fill="#327e8a"/>
<rect x="1746.8" y="811.7" width="39.3" height="32.1" fill="#33768a"/>
<rect x="1793.2" y="811.7" width="35.7" height="32.1" fill="#3b5689"/>
<rect x="1836.1" y="811.7" width="35.7" height="32.1" fill="#376c8a"/>
<rect x="472.0" y="851.0" width="35.7" height="28.6" fill="#4bb07c"/>
<rect x="514.8" y="851.0" width="35.7" height="28.6" fill="#8ad95c"/>
<rect x="557.7" y="851.0" width="39.3" height="28.6" fill="#7cd761"/>
<rect x="604.1" y="851.0" width="35.7" height="28.6" fill="#aee254"/>
<rect x="647.0" y="851.0" width="35.7" height="28.6" fill="#8ad95c"/>
<rect x="689.8" y="851.0" width="39.3" height="28.6" fill="#aee254"/>
<rect x="736.2" y="851.0" width="35.7" height="28.6" fill="#6ad366"/>
<rect x="779.1" y="851.0" width="35.7" height="28.6" fill="#6ad366"/>
<rect x="821.9" y="851.0" width="39.3" height="28.6" fill="#3e4085"/>
<rect x="868.4" y="851.0" width="35.7" height="28.6" fill="#60cf68"/>
<rect x="911.2" y="851.0" width="35.7" height="28.6" fill="#50b778"/>
<rect x="954.1" y="851.0" width="39.3" height="28.6" fill="#bae451"/>
<rect x="1000.5" y="851.0" width="35.7" height="28.6" fill="#6ad366"/>
<rect x="1043.3" y="851.0" width="35.7" height="28.6" fill="#6ad366"/>
<rect x="1086.2" y="851.0" width="39.3" height="28.6" fill="#50b778"/>
<rect x="1132.6" y="851.0" width="35.7" height="28.6" fill="#48ac7e"/>
<rect x="1175.5" y="851.0" width="35.7" height="28.6" fill="#3e4085"/>
<rect x="1218.3" y="851.0" width="39.3" height="28.6" fill="#3e4085"/>
<rect x="1264.7" y="851.0" width="35.7" height="28.6" fill="#440154"/>
<rect x="1307.6" y="851.0" width="35.7" height="28.6" fill="#432b72"/>
<rect x="1350.4" y="851.0" width="39.3" height="28.6" fill="#432b72"/>
<rect x="1396.9" y="851.0" width="35.7" height="28.6" fill="#3c4f88"/>
<rect x="1439.7" y="851.0" width="35.7" height="28.6" fill="#403a80"/>
<rect x="1482.6" y="851.0" width="39.3" height="28.6" fill="#3e4085"/>
<rect x="1529.0" y="851.0" width="35.7" height="28.6" fill="#60cf68"/>
<rect x="1571.8" y="851.0" width="35.7" height="28.6" fill="#50b778"/>
<rect x="1614.7" y="851.0" width="39.3" height="28.6" fill="#60cf68"/>
<rect x="1661.1" y="851.0" width="35.7" height="28.6" fill="#5ac66e"/>
<rect x="1704.0" y="851.0" width="35.7" height="28.6" fill="#4bb07c"/>
<rect x="1746.8" y="851.0" width="39.3" height="28.6" fill="#349a86"/>
<rect x="1793.2" y="851.0" width="35.7" height="28.6" fill="#2e9588"/>
<rect x="1836.1" y="851.0" width="35.7" height="28.6" fill="#327e8a"/>
<rect x="472.0" y="886.7" width="35.7" height="32.1" fill="#a0de59"/>
<rect x="514.8" y="886.7" width="35.7" height="32.1" fill="#6ad366"/>
<rect x="557.7" y="886.7" width="39.3" height="32.1" fill="#5ac66e"/>
<rect x="604.1" y="886.7" width="35.7" height="32.1" fill="#7cd761"/>
<rect x="647.0" y="886.7" width="35.7" height="32.1" fill="#7cd761"/>
<rect x="689.8" y="886.7" width="39.3" height="32.1" fill="#7cd761"/>
<rect x="736.2" y="886.7" width="35.7" height="32.1" fill="#8ad95c"/>
<rect x="779.1" y="886.7" width="35.7" height="32.1" fill="#56be74"/>
<rect x="821.9" y="886.7" width="39.3" height="32.1" fill="#48ac7e"/>
<rect x="868.4" y="886.7" width="35.7" height="32.1" fill="#a0de59"/>
<rect x="911.2" y="886.7" width="35.7" height="32.1" fill="#349a86"/>
<rect x="954.1" y="886.7" width="39.3" height="32.1" fill="#5ac66e"/>
<rect x="1000.5" y="886.7" width="35.7" height="32.1" fill="#60cf68"/>
<rect x="1043.3" y="886.7" width="35.7" height="32.1" fill="#6ad366"/>
<rect x="1086.2" y="886.7" width="39.3" height="32.1" fill="#5ac66e"/>
<rect x="1132.6" y="886.7" width="35.7" height="32.1" fill="#6ad366"/>
<rect x="1175.5" y="886.7" width="35.7" height="32.1" fill="#403a80"/>
<rect x="1218.3" y="886.7" width="39.3" height="32.1" fill="#440154"/>
<rect x="1264.7" y="886.7" width="35.7" height="32.1" fill="#3e4085"/>
<rect x="1307.6" y="886.7" width="35.7" height="32.1" fill="#432b72"/>
<rect x="1350.4" y="886.7" width="39.3" height="32.1" fill="#42317a"/>
<rect x="1396.9" y="886.7" width="35.7" height="32.1" fill="#3d4887"/>
<rect x="1439.7" y="886.7" width="35.7" height="32.1" fill="#403a80"/>
<rect x="1482.6" y="886.7" width="39.3" height="32.1" fill="#403a80"/>
<rect x="1529.0" y="886.7" width="35.7" height="32.1" fill="#48ac7e"/>
<rect x="1571.8" y="886.7" width="35.7" height="32.1" fill="#3da084"/>
<rect x="1614.7" y="886.7" width="39.3" height="32.1" fill="#3da084"/>
<rect x="1661.1" y="886.7" width="35.7" height="32.1" fill="#327e8a"/>
<rect x="1704.0" y="886.7" width="35.7" height="32.1" fill="#2e838a"/>
<rect x="1746.8" y="886.7" width="39.3" height="32.1" fill="#2b8a8a"/>
<rect x="1793.2" y="886.7" width="35.7" height="32.1" fill="#3d4887"/>
<rect x="1836.1" y="886.7" width="35.7" height="32.1" fill="#3e4085"/>
<rect x="472.0" y="926.0" width="35.7" height="28.6" fill="#7cd761"/>
<rect x="514.8" y="926.0" width="35.7" height="28.6" fill="#c5e74e"/>
<rect x="557.7" y="926.0" width="39.3" height="28.6" fill="#aee254"/>
<rect x="604.1" y="926.0" width="35.7" height="28.6" fill="#aee254"/>
<rect x="647.0" y="926.0" width="35.7" height="28.6" fill="#8ad95c"/>
<rect x="689.8" y="926.0" width="39.3" height="28.6" fill="#a0de59"/>
<rect x="736.2" y="926.0" width="35.7" height="28.6" fill="#8ad95c"/>
<rect x="779.1" y="926.0" width="35.7" height="28.6" fill="#50b778"/>
<rect x="821.9" y="926.0" width="39.3" height="28.6" fill="#aee254"/>
<rect x="868.4" y="926.0" width="35.7" height="28.6" fill="#eef03c"/>
<rect x="911.2" y="926.0" width="35.7" height="28.6" fill="#a0de59"/>
<rect x="954.1" y="926.0" width="39.3" height="28.6" fill="#8ad95c"/>
<rect x="1000.5" y="926.0" width="35.7" height="28.6" fill="#7cd761"/>
<rect x="1043.3" y="926.0" width="35.7" height="28.6" fill="#50b778"/>
<rect x="1086.2" y="926.0" width="39.3" height="28.6" fill="#aee254"/>
<rect x="1132.6" y="926.0" width="35.7" height="28.6" fill="#8ad95c"/>
<rect x="1175.5" y="926.0" width="35.7" height="28.6" fill="#440154"/>
<rect x="1218.3" y="926.0" width="39.3" height="28.6" fill="#403a80"/>
<rect x="1264.7" y="926.0" width="35.7" height="28.6" fill="#3e4085"/>
<rect x="1307.6" y="926.0" width="35.7" height="28.6" fill="#432b72"/>
<rect x="1350.4" y="926.0" width="39.3" height="28.6" fill="#403a80"/>
<rect x="1396.9" y="926.0" width="35.7" height="28.6" fill="#3c4f88"/>
<rect x="1439.7" y="926.0" width="35.7" height="28.6" fill="#3e4085"/>
<rect x="1482.6" y="926.0" width="39.3" height="28.6" fill="#3c4f88"/>
<rect x="1529.0" y="926.0" width="35.7" height="28.6" fill="#8ad95c"/>
<rect x="1571.8" y="926.0" width="35.7" height="28.6" fill="#8ad95c"/>
<rect x="1614.7" y="926.0" width="39.3" height="28.6" fill="#dcec46"/>
<rect x="1661.1" y="926.0" width="35.7" height="28.6" fill="#c5e74e"/>
<rect x="1704.0" y="926.0" width="35.7" height="28.6" fill="#60cf68"/>
<rect x="1746.8" y="926.0" width="39.3" height="28.6" fill="#7cd761"/>
<rect x="1793.2" y="926.0" width="35.7" height="28.6" fill="#60cf68"/>
<rect x="1836.1" y="926.0" width="35.7" height="28.6" fill="#a0de59"/>
<rect x="472.0" y="961.7" width="35.7" height="28.6" fill="#3c4f88"/>
<rect x="514.8" y="961.7" width="35.7" height="28.6" fill="#403a80"/>
<rect x="557.7" y="961.7" width="39.3" height="28.6" fill="#3d4887"/>
<rect x="604.1" y="961.7" width="35.7" height="28.6" fill="#3d4887"/>
<rect x="647.0" y="961.7" width="35.7" height="28.6" fill="#3a5e8a"/>
<rect x="689.8" y="961.7" width="39.3" height="28.6" fill="#3e4085"/>
<rect x="736.2" y="961.7" width="35.7" height="28.6" fill="#403a80"/>
<rect x="779.1" y="961.7" width="35.7" height="28.6" fill="#3e4085"/>
<rect x="821.9" y="961.7" width="39.3" height="28.6" fill="#3e4085"/>
<rect x="868.4" y="961.7" width="35.7" height="28.6" fill="#3e4085"/>
<rect x="911.2" y="961.7" width="35.7" height="28.6" fill="#403a80"/>
<rect x="954.1" y="961.7" width="39.3" height="28.6" fill="#432b72"/>
<rect x="1000.5" y="961.7" width="35.7" height="28.6" fill="#432b72"/>
<rect x="1043.3" y="961.7" width="35.7" height="28.6" fill="#432b72"/>
<rect x="1086.2" y="961.7" width="39.3" height="28.6" fill="#432b72"/>
<rect x="1132.6" y="961.7" width="35.7" height="28.6" fill="#440154"/>
<rect x="1175.5" y="961.7" width="35.7" height="28.6" fill="#8ad95c"/>
<rect x="1218.3" y="961.7" width="39.3" height="28.6" fill="#6ad366"/>
<rect x="1264.7" y="961.7" width="35.7" height="28.6" fill="#48ac7e"/>
<rect x="1307.6" y="961.7" width="35.7" height="28.6" fill="#50b778"/>
<rect x="1350.4" y="961.7" width="39.3" height="28.6" fill="#50b778"/>
<rect x="1396.9" y="961.7" width="35.7" height="28.6" fill="#48ac7e"/>
<rect x="1439.7" y="961.7" width="35.7" height="28.6" fill="#7cd761"/>
<rect x="1482.6" y="961.7" width="39.3" height="28.6" fill="#8ad95c"/>
<rect x="1529.0" y="961.7" width="35.7" height="28.6" fill="#4bb07c"/>
<rect x="1571.8" y="961.7" width="35.7" height="28.6" fill="#56be74"/>
<rect x="1614.7" y="961.7" width="39.3" height="28.6" fill="#2e9588"/>
<rect x="1661.1" y="961.7" width="35.7" height="28.6" fill="#327e8a"/>
<rect x="1704.0" y="961.7" width="35.7" height="28.6" fill="#376c8a"/>
<rect x="1746.8" y="961.7" width="39.3" height="28.6" fill="#349a86"/>
<rect x="1793.2" y="961.7" width="35.7" height="28.6" fill="#3b5689"/>
<rect x="1836.1" y="961.7" width="35.7" height="28.6" fill="#3d4887"/>
<rect x="472.0" y="997.4" width="35.7" height="32.1" fill="#327e8a"/>
<rect x="514.8" y="997.4" width="35.7" height="32.1" fill="#3e4085"/>
<rect x="557.7" y="997.4" width="39.3" height="32.1" fill="#3a5e8a"/>
<rect x="604.1" y="997.4" width="35.7" height="32.1" fill="#3e4085"/>
<rect x="647.0" y="997.4" width="35.7" height="32.1" fill="#3e4085"/>
<rect x="689.8" y="997.4" width="39.3" height="32.1" fill="#3e4085"/>
<rect x="736.2" y="997.4" width="35.7" height="32.1" fill="#3e4085"/>
<rect x="779.1" y="997.4" width="35.7" height="32.1" fill="#3d4887"/>
<rect x="821.9" y="997.4" width="39.3" height="32.1" fill="#432b72"/>
<rect x="868.4" y="997.4" width="35.7" height="32.1" fill="#432b72"/>
<rect x="911.2" y="997.4" width="35.7" height="32.1" fill="#432b72"/>
<rect x="954.1" y="997.4" width="39.3" height="32.1" fill="#42317a"/>
<rect x="1000.5" y="997.4" width="35.7" height="32.1" fill="#432b72"/>
<rect x="1043.3" y="997.4" width="35.7" height="32.1" fill="#432b72"/>
<rect x="1086.2" y="997.4" width="39.3" height="32.1" fill="#440154"/>
<rect x="1132.6" y="997.4" width="35.7" height="32.1" fill="#432b72"/>
<rect x="1175.5" y="997.4" width="35.7" height="32.1" fill="#aee254"/>
<rect x="1218.3" y="997.4" width="39.3" height="32.1" fill="#5ac66e"/>
<rect x="1264.7" y="997.4" width="35.7" height="32.1" fill="#50b778"/>
<rect x="1307.6" y="997.4" width="35.7" height="32.1" fill="#4bb07c"/>
<rect x="1350.4" y="997.4" width="39.3" height="32.1" fill="#50b778"/>
<rect x="1396.9" y="997.4" width="35.7" height="32.1" fill="#60cf68"/>
<rect x="1439.7" y="997.4" width="35.7" height="32.1" fill="#a0de59"/>
<rect x="1482.6" y="997.4" width="39.3" height="32.1" fill="#c5e74e"/>
<rect x="1529.0" y="997.4" width="35.7" height="32.1" fill="#50b778"/>
<rect x="1571.8" y="997.4" width="35.7" height="32.1" fill="#6ad366"/>
<rect x="1614.7" y="997.4" width="39.3" height="32.1" fill="#327e8a"/>
<rect x="1661.1" y="997.4" width="35.7" height="32.1" fill="#349a86"/>
<rect x="1704.0" y="997.4" width="35.7" height="32.1" fill="#376c8a"/>
<rect x="1746.8" y="997.4" width="39.3" height="32.1" fill="#2b8a8a"/>
<rect x="1793.2" y="997.4" width="35.7" height="32.1" fill="#3e4085"/>
<rect x="1836.1" y="997.4" width="35.7" height="32.1" fill="#3b5689"/>
<rect x="472.0" y="1036.7" width="35.7" height="28.6" fill="#376c8a"/>
<rect x="514.8" y="1036.7" width="35.7" height="28.6" fill="#3a5e8a"/>
<rect x="557.7" y="1036.7" width="39.3" height="28.6" fill="#50b778"/>
<rect x="604.1" y="1036.7" width="35.7" height="28.6" fill="#27908a"/>
<rect x="647.0" y="1036.7" width="35.7" height="28.6" fill="#349a86"/>
<rect x="689.8" y="1036.7" width="39.3" height="28.6" fill="#3b5689"/>
<rect x="736.2" y="1036.7" width="35.7" height="28.6" fill="#3e4085"/>
<rect x="779.1" y="1036.7" width="35.7" height="28.6" fill="#3a5e8a"/>
<rect x="821.9" y="1036.7" width="39.3" height="28.6" fill="#3d4887"/>
<rect x="868.4" y="1036.7" width="35.7" height="28.6" fill="#3e4085"/>
<rect x="911.2" y="1036.7" width="35.7" height="28.6" fill="#42317a"/>
<rect x="954.1" y="1036.7" width="39.3" height="28.6" fill="#42317a"/>
<rect x="1000.5" y="1036.7" width="35.7" height="28.6" fill="#432b72"/>
<rect x="1043.3" y="1036.7" width="35.7" height="28.6" fill="#440154"/>
<rect x="1086.2" y="1036.7" width="39.3" height="28.6" fill="#432b72"/>
<rect x="1132.6" y="1036.7" width="35.7" height="28.6" fill="#432b72"/>
<rect x="1175.5" y="1036.7" width="35.7" height="28.6" fill="#50b778"/>
<rect x="1218.3" y="1036.7" width="39.3" height="28.6" fill="#6ad366"/>
<rect x="1264.7" y="1036.7" width="35.7" height="28.6" fill="#6ad366"/>
<rect x="1307.6" y="1036.7" width="35.7" height="28.6" fill="#5ac66e"/>
<rect x="1350.4" y="1036.7" width="39.3" height="28.6" fill="#2b8a8a"/>
<rect x="1396.9" y="1036.7" width="35.7" height="28.6" fill="#60cf68"/>
<rect x="1439.7" y="1036.7" width="35.7" height="28.6" fill="#aee254"/>
<rect x="1482.6" y="1036.7" width="39.3" height="28.6" fill="#dcec46"/>
<rect x="1529.0" y="1036.7" width="35.7" height="28.6" fill="#8ad95c"/>
<rect x="1571.8" y="1036.7" width="35.7" height="28.6" fill="#8ad95c"/>
<rect x="1614.7" y="1036.7" width="39.3" height="28.6" fill="#60cf68"/>
<rect x="1661.1" y="1036.7" width="35.7" height="28.6" fill="#2b8a8a"/>
<rect x="1704.0" y="1036.7" width="35.7" height="28.6" fill="#48ac7e"/>
<rect x="1746.8" y="1036.7" width="39.3" height="28.6" fill="#50b778"/>
<rect x="1793.2" y="1036.7" width="35.7" height="28.6" fill="#35728b"/>
<rect x="1836.1" y="1036.7" width="35.7" height="28.6" fill="#376c8a"/>
<rect x="472.0" y="1072.5" width="35.7" height="28.6" fill="#2e838a"/>
<rect x="514.8" y="1072.5" width="35.7" height="28.6" fill="#3a5e8a"/>
<rect x="557.7" y="1072.5" width="39.3" height="28.6" fill="#50b778"/>
<rect x="604.1" y="1072.5" width="35.7" height="28.6" fill="#327e8a"/>
<rect x="647.0" y="1072.5" width="35.7" height="28.6" fill="#27908a"/>
<rect x="689.8" y="1072.5" width="39.3" height="28.6" fill="#3b5689"/>
<rect x="736.2" y="1072.5" width="35.7" height="28.6" fill="#376c8a"/>
<rect x="779.1" y="1072.5" width="35.7" height="28.6" fill="#3b5689"/>
<rect x="821.9" y="1072.5" width="39.3" height="28.6" fill="#3e4085"/>
<rect x="868.4" y="1072.5" width="35.7" height="28.6" fill="#3e4085"/>
<rect x="911.2" y="1072.5" width="35.7" height="28.6" fill="#403a80"/>
<rect x="954.1" y="1072.5" width="39.3" height="28.6" fill="#42317a"/>
<rect x="1000.5" y="1072.5" width="35.7" height="28.6" fill="#440154"/>
<rect x="1043.3" y="1072.5" width="35.7" height="28.6" fill="#432b72"/>
<rect x="1086.2" y="1072.5" width="39.3" height="28.6" fill="#432b72"/>
<rect x="1132.6" y="1072.5" width="35.7" height="28.6" fill="#432b72"/>
<rect x="1175.5" y="1072.5" width="35.7" height="28.6" fill="#7cd761"/>
<rect x="1218.3" y="1072.5" width="39.3" height="28.6" fill="#60cf68"/>
<rect x="1264.7" y="1072.5" width="35.7" height="28.6" fill="#6ad366"/>
<rect x="1307.6" y="1072.5" width="35.7" height="28.6" fill="#42a582"/>
<rect x="1350.4" y="1072.5" width="39.3" height="28.6" fill="#42a582"/>
<rect x="1396.9" y="1072.5" width="35.7" height="28.6" fill="#56be74"/>
<rect x="1439.7" y="1072.5" width="35.7" height="28.6" fill="#bae451"/>
<rect x="1482.6" y="1072.5" width="39.3" height="28.6" fill="#bae451"/>
<rect x="1529.0" y="1072.5" width="35.7" height="28.6" fill="#6ad366"/>
<rect x="1571.8" y="1072.5" width="35.7" height="28.6" fill="#5ac66e"/>
<rect x="1614.7" y="1072.5" width="39.3" height="28.6" fill="#2e9588"/>
<rect x="1661.1" y="1072.5" width="35.7" height="28.6" fill="#42a582"/>
<rect x="1704.0" y="1072.5" width="35.7" height="28.6" fill="#27908a"/>
<rect x="1746.8" y="1072.5" width="39.3" height="28.6" fill="#42a582"/>
<rect x="1793.2" y="1072.5" width="35.7" height="28.6" fill="#3c4f88"/>
<rect x="1836.1" y="1072.5" width="35.7" height="28.6" fill="#39668a"/>
<rect x="472.0" y="1108.2" width="35.7" height="32.1" fill="#4bb07c"/>
<rect x="514.8" y="1108.2" width="35.7" height="32.1" fill="#39668a"/>
<rect x="557.7" y="1108.2" width="39.3" height="32.1" fill="#7cd761"/>
<rect x="604.1" y="1108.2" width="35.7" height="32.1" fill="#6ad366"/>
<rect x="647.0" y="1108.2" width="35.7" height="32.1" fill="#7cd761"/>
<rect x="689.8" y="1108.2" width="39.3" height="32.1" fill="#2e9588"/>
<rect x="736.2" y="1108.2" width="35.7" height="32.1" fill="#4bb07c"/>
<rect x="779.1" y="1108.2" width="35.7" height="32.1" fill="#27908a"/>
<rect x="821.9" y="1108.2" width="39.3" height="32.1" fill="#39668a"/>
<rect x="868.4" y="1108.2" width="35.7" height="32.1" fill="#3e4085"/>
<rect x="911.2" y="1108.2" width="35.7" height="32.1" fill="#3d4887"/>
<rect x="954.1" y="1108.2" width="39.3" height="32.1" fill="#440154"/>
<rect x="1000.5" y="1108.2" width="35.7" height="32.1" fill="#42317a"/>
<rect x="1043.3" y="1108.2" width="35.7" height="32.1" fill="#42317a"/>
<rect x="1086.2" y="1108.2" width="39.3" height="32.1" fill="#42317a"/>
<rect x="1132.6" y="1108.2" width="35.7" height="32.1" fill="#432b72"/>
<rect x="1175.5" y="1108.2" width="35.7" height="32.1" fill="#8ad95c"/>
<rect x="1218.3" y="1108.2" width="39.3" height="32.1" fill="#5ac66e"/>
<rect x="1264.7" y="1108.2" width="35.7" height="32.1" fill="#bae451"/>
<rect x="1307.6" y="1108.2" width="35.7" height="32.1" fill="#6ad366"/>
<rect x="1350.4" y="1108.2" width="39.3" height="32.1" fill="#6ad366"/>
<rect x="1396.9" y="1108.2" width="35.7" height="32.1" fill="#8ad95c"/>
<rect x="1439.7" y="1108.2" width="35.7" height="32.1" fill="#8ad95c"/>
<rect x="1482.6" y="1108.2" width="39.3" height="32.1" fill="#a0de59"/>
<rect x="1529.0" y="1108.2" width="35.7" height="32.1" fill="#60cf68"/>
<rect x="1571.8" y="1108.2" width="35.7" height="32.1" fill="#aee254"/>
<rect x="1614.7" y="1108.2" width="39.3" height="32.1" fill="#6ad366"/>
<rect x="1661.1" y="1108.2" width="35.7" height="32.1" fill="#3da084"/>
<rect x="1704.0" y="1108.2" width="35.7" height="32.1" fill="#2e838a"/>
<rect x="1746.8" y="1108.2" width="39.3" height="32.1" fill="#56be74"/>
<rect x="1793.2" y="1108.2" width="35.7" height="32.1" fill="#3a5e8a"/>
<rect x="1836.1" y="1108.2" width="35.7" height="32.1" fill="#33768a"/>
<rect x="472.0" y="1147.5" width="35.7" height="28.6" fill="#56be74"/>
<rect x="514.8" y="1147.5" width="35.7" height="28.6" fill="#2e9588"/>
<rect x="557.7" y="1147.5" width="39.3" height="28.6" fill="#2b8a8a"/>
<rect x="604.1" y="1147.5" width="35.7" height="28.6" fill="#27908a"/>
<rect x="647.0" y="1147.5" width="35.7" height="28.6" fill="#48ac7e"/>
<rect x="689.8" y="1147.5" width="39.3" height="28.6" fill="#27908a"/>
<rect x="736.2" y="1147.5" width="35.7" height="28.6" fill="#2b8a8a"/>
<rect x="779.1" y="1147.5" width="35.7" height="28.6" fill="#2e838a"/>
<rect x="821.9" y="1147.5" width="39.3" height="28.6" fill="#33768a"/>
<rect x="868.4" y="1147.5" width="35.7" height="28.6" fill="#3d4887"/>
<rect x="911.2" y="1147.5" width="35.7" height="28.6" fill="#440154"/>
<rect x="954.1" y="1147.5" width="39.3" height="28.6" fill="#3d4887"/>
<rect x="1000.5" y="1147.5" width="35.7" height="28.6" fill="#403a80"/>
<rect x="1043.3" y="1147.5" width="35.7" height="28.6" fill="#42317a"/>
<rect x="1086.2" y="1147.5" width="39.3" height="28.6" fill="#432b72"/>
<rect x="1132.6" y="1147.5" width="35.7" height="28.6" fill="#403a80"/>
<rect x="1175.5" y="1147.5" width="35.7" height="28.6" fill="#a0de59"/>
<rect x="1218.3" y="1147.5" width="39.3" height="28.6" fill="#349a86"/>
<rect x="1264.7" y="1147.5" width="35.7" height="28.6" fill="#50b778"/>
<rect x="1307.6" y="1147.5" width="35.7" height="28.6" fill="#a0de59"/>
<rect x="1350.4" y="1147.5" width="39.3" height="28.6" fill="#5ac66e"/>
<rect x="1396.9" y="1147.5" width="35.7" height="28.6" fill="#aee254"/>
<rect x="1439.7" y="1147.5" width="35.7" height="28.6" fill="#a0de59"/>
<rect x="1482.6" y="1147.5" width="39.3" height="28.6" fill="#a0de59"/>
<rect x="1529.0" y="1147.5" width="35.7" height="28.6" fill="#60cf68"/>
<rect x="1571.8" y="1147.5" width="35.7" height="28.6" fill="#6ad366"/>
<rect x="1614.7" y="1147.5" width="39.3" height="28.6" fill="#2e838a"/>
<rect x="1661.1" y="1147.5" width="35.7" height="28.6" fill="#27908a"/>
<rect x="1704.0" y="1147.5" width="35.7" height="28.6" fill="#42a582"/>
<rect x="1746.8" y="1147.5" width="39.3" height="28.6" fill="#3da084"/>
<rect x="1793.2" y="1147.5" width="35.7" height="28.6" fill="#39668a"/>
<rect x="1836.1" y="1147.5" width="35.7" height="28.6" fill="#39668a"/>
<rect x="472.0" y="1183.2" width="35.7" height="32.1" fill="#376c8a"/>
<rect x="514.8" y="1183.2" width="35.7" height="32.1" fill="#33768a"/>
<rect x="557.7" y="1183.2" width="39.3" height="32.1" fill="#2e838a"/>
<rect x="604.1" y="1183.2" width="35.7" height="32.1" fill="#60cf68"/>
<rect x="647.0" y="1183.2" width="35.7" height="32.1" fill="#2b8a8a"/>
<rect x="689.8" y="1183.2" width="39.3" height="32.1" fill="#33768a"/>
<rect x="736.2" y="1183.2" width="35.7" height="32.1" fill="#33768a"/>
<rect x="779.1" y="1183.2" width="35.7" height="32.1" fill="#42a582"/>
<rect x="821.9" y="1183.2" width="39.3" height="32.1" fill="#3c4f88"/>
<rect x="868.4" y="1183.2" width="35.7" height="32.1" fill="#440154"/>
<rect x="911.2" y="1183.2" width="35.7" height="32.1" fill="#3d4887"/>
<rect x="954.1" y="1183.2" width="39.3" height="32.1" fill="#3e4085"/>
<rect x="1000.5" y="1183.2" width="35.7" height="32.1" fill="#3e4085"/>
<rect x="1043.3" y="1183.2" width="35.7" height="32.1" fill="#3e4085"/>
<rect x="1086.2" y="1183.2" width="39.3" height="32.1" fill="#432b72"/>
<rect x="1132.6" y="1183.2" width="35.7" height="32.1" fill="#3e4085"/>
<rect x="1175.5" y="1183.2" width="35.7" height="32.1" fill="#eef03c"/>
<rect x="1218.3" y="1183.2" width="39.3" height="32.1" fill="#a0de59"/>
<rect x="1264.7" y="1183.2" width="35.7" height="32.1" fill="#60cf68"/>
<rect x="1307.6" y="1183.2" width="35.7" height="32.1" fill="#a0de59"/>
<rect x="1350.4" y="1183.2" width="39.3" height="32.1" fill="#aee254"/>
<rect x="1396.9" y="1183.2" width="35.7" height="32.1" fill="#56be74"/>
<rect x="1439.7" y="1183.2" width="35.7" height="32.1" fill="#aee254"/>
<rect x="1482.6" y="1183.2" width="39.3" height="32.1" fill="#a0de59"/>
<rect x="1529.0" y="1183.2" width="35.7" height="32.1" fill="#56be74"/>
<rect x="1571.8" y="1183.2" width="35.7" height="32.1" fill="#4bb07c"/>
<rect x="1614.7" y="1183.2" width="39.3" height="32.1" fill="#3e4085"/>
<rect x="1661.1" y="1183.2" width="35.7" height="32.1" fill="#327e8a"/>
<rect x="1704.0" y="1183.2" width="35.7" height="32.1" fill="#3d4887"/>
<rect x="1746.8" y="1183.2" width="39.3" height="32.1" fill="#2b8a8a"/>
<rect x="1793.2" y="1183.2" width="35.7" height="32.1" fill="#3e4085"/>
<rect x="1836.1" y="1183.2" width="35.7" height="32.1" fill="#3d4887"/>
<rect x="472.0" y="1222.5" width="35.7" height="28.6" fill="#327e8a"/>
<rect x="514.8" y="1222.5" width="35.7" height="28.6" fill="#3a5e8a"/>
<rect x="557.7" y="1222.5" width="39.3" height="28.6" fill="#3d4887"/>
<rect x="604.1" y="1222.5" width="35.7" height="28.6" fill="#39668a"/>
<rect x="647.0" y="1222.5" width="35.7" height="28.6" fill="#3e4085"/>
<rect x="689.8" y="1222.5" width="39.3" height="28.6" fill="#3e4085"/>
<rect x="736.2" y="1222.5" width="35.7" height="28.6" fill="#3c4f88"/>
<rect x="779.1" y="1222.5" width="35.7" height="28.6" fill="#39668a"/>
<rect x="821.9" y="1222.5" width="39.3" height="28.6" fill="#440154"/>
<rect x="868.4" y="1222.5" width="35.7" height="28.6" fill="#3c4f88"/>
<rect x="911.2" y="1222.5" width="35.7" height="28.6" fill="#33768a"/>
<rect x="954.1" y="1222.5" width="39.3" height="28.6" fill="#39668a"/>
<rect x="1000.5" y="1222.5" width="35.7" height="28.6" fill="#3e4085"/>
<rect x="1043.3" y="1222.5" width="35.7" height="28.6" fill="#3d4887"/>
<rect x="1086.2" y="1222.5" width="39.3" height="28.6" fill="#432b72"/>
<rect x="1132.6" y="1222.5" width="35.7" height="28.6" fill="#3e4085"/>
<rect x="1175.5" y="1222.5" width="35.7" height="28.6" fill="#aee254"/>
<rect x="1218.3" y="1222.5" width="39.3" height="28.6" fill="#48ac7e"/>
<rect x="1264.7" y="1222.5" width="35.7" height="28.6" fill="#3e4085"/>
<rect x="1307.6" y="1222.5" width="35.7" height="28.6" fill="#2e838a"/>
<rect x="1350.4" y="1222.5" width="39.3" height="28.6" fill="#35728b"/>
<rect x="1396.9" y="1222.5" width="35.7" height="28.6" fill="#a0de59"/>
<rect x="1439.7" y="1222.5" width="35.7" height="28.6" fill="#5ac66e"/>
<rect x="1482.6" y="1222.5" width="39.3" height="28.6" fill="#6ad366"/>
<rect x="1529.0" y="1222.5" width="35.7" height="28.6" fill="#42a582"/>
<rect x="1571.8" y="1222.5" width="35.7" height="28.6" fill="#6ad366"/>
<rect x="1614.7" y="1222.5" width="39.3" height="28.6" fill="#60cf68"/>
<rect x="1661.1" y="1222.5" width="35.7" height="28.6" fill="#56be74"/>
<rect x="1704.0" y="1222.5" width="35.7" height="28.6" fill="#35728b"/>
<rect x="1746.8" y="1222.5" width="39.3" height="28.6" fill="#50b778"/>
<rect x="1793.2" y="1222.5" width="35.7" height="28.6" fill="#2e838a"/>
<rect x="1836.1" y="1222.5" width="35.7" height="28.6" fill="#33768a"/>
<rect x="472.0" y="1258.2" width="35.7" height="28.6" fill="#42317a"/>
<rect x="514.8" y="1258.2" width="35.7" height="28.6" fill="#432b72"/>
<rect x="557.7" y="1258.2" width="39.3" height="28.6" fill="#432b72"/>
<rect x="604.1" y="1258.2" width="35.7" height="28.6" fill="#432b72"/>
<rect x="647.0" y="1258.2" width="35.7" height="28.6" fill="#44246c"/>
<rect x="689.8" y="1258.2" width="39.3" height="28.6" fill="#432b72"/>
<rect x="736.2" y="1258.2" width="35.7" height="28.6" fill="#451866"/>
<rect x="779.1" y="1258.2" width="35.7" height="28.6" fill="#440154"/>
<rect x="821.9" y="1258.2" width="39.3" height="28.6" fill="#39668a"/>
<rect x="868.4" y="1258.2" width="35.7" height="28.6" fill="#42a582"/>
<rect x="911.2" y="1258.2" width="35.7" height="28.6" fill="#2e838a"/>
<rect x="954.1" y="1258.2" width="39.3" height="28.6" fill="#27908a"/>
<rect x="1000.5" y="1258.2" width="35.7" height="28.6" fill="#3b5689"/>
<rect x="1043.3" y="1258.2" width="35.7" height="28.6" fill="#3a5e8a"/>
<rect x="1086.2" y="1258.2" width="39.3" height="28.6" fill="#3d4887"/>
<rect x="1132.6" y="1258.2" width="35.7" height="28.6" fill="#3e4085"/>
<rect x="1175.5" y="1258.2" width="35.7" height="28.6" fill="#50b778"/>
<rect x="1218.3" y="1258.2" width="39.3" height="28.6" fill="#56be74"/>
<rect x="1264.7" y="1258.2" width="35.7" height="28.6" fill="#6ad366"/>
<rect x="1307.6" y="1258.2" width="35.7" height="28.6" fill="#3da084"/>
<rect x="1350.4" y="1258.2" width="39.3" height="28.6" fill="#27908a"/>
<rect x="1396.9" y="1258.2" width="35.7" height="28.6" fill="#2b8a8a"/>
<rect x="1439.7" y="1258.2" width="35.7" height="28.6" fill="#349a86"/>
<rect x="1482.6" y="1258.2" width="39.3" height="28.6" fill="#bae451"/>
<rect x="1529.0" y="1258.2" width="35.7" height="28.6" fill="#bae451"/>
<rect x="1571.8" y="1258.2" width="35.7" height="28.6" fill="#8ad95c"/>
<rect x="1614.7" y="1258.2" width="39.3" height="28.6" fill="#56be74"/>
<rect x="1661.1" y="1258.2" width="35.7" height="28.6" fill="#5ac66e"/>
<rect x="1704.0" y="1258.2" width="35.7" height="28.6" fill="#27908a"/>
<rect x="1746.8" y="1258.2" width="39.3" height="28.6" fill="#2b8a8a"/>
<rect x="1793.2" y="1258.2" width="35.7" height="28.6" fill="#60cf68"/>
<rect x="1836.1" y="1258.2" width="35.7" height="28.6" fill="#6ad366"/>
<rect x="472.0" y="1293.9" width="35.7" height="32.1" fill="#432b72"/>
<rect x="514.8" y="1293.9" width="35.7" height="32.1" fill="#44246c"/>
<rect x="557.7" y="1293.9" width="39.3" height="32.1" fill="#432b72"/>
<rect x="604.1" y="1293.9" width="35.7" height="32.1" fill="#432b72"/>
<rect x="647.0" y="1293.9" width="35.7" height="32.1" fill="#432b72"/>
<rect x="689.8" y="1293.9" width="39.3" height="32.1" fill="#44246c"/>
<rect x="736.2" y="1293.9" width="35.7" height="32.1" fill="#440154"/>
<rect x="779.1" y="1293.9" width="35.7" height="32.1" fill="#451866"/>
<rect x="821.9" y="1293.9" width="39.3" height="32.1" fill="#3c4f88"/>
<rect x="868.4" y="1293.9" width="35.7" height="32.1" fill="#33768a"/>
<rect x="911.2" y="1293.9" width="35.7" height="32.1" fill="#2b8a8a"/>
<rect x="954.1" y="1293.9" width="39.3" height="32.1" fill="#4bb07c"/>
<rect x="1000.5" y="1293.9" width="35.7" height="32.1" fill="#376c8a"/>
<rect x="1043.3" y="1293.9" width="35.7" height="32.1" fill="#3e4085"/>
<rect x="1086.2" y="1293.9" width="39.3" height="32.1" fill="#3e4085"/>
<rect x="1132.6" y="1293.9" width="35.7" height="32.1" fill="#403a80"/>
<rect x="1175.5" y="1293.9" width="35.7" height="32.1" fill="#8ad95c"/>
<rect x="1218.3" y="1293.9" width="39.3" height="32.1" fill="#8ad95c"/>
<rect x="1264.7" y="1293.9" width="35.7" height="32.1" fill="#6ad366"/>
<rect x="1307.6" y="1293.9" width="35.7" height="32.1" fill="#27908a"/>
<rect x="1350.4" y="1293.9" width="39.3" height="32.1" fill="#6ad366"/>
<rect x="1396.9" y="1293.9" width="35.7" height="32.1" fill="#35728b"/>
<rect x="1439.7" y="1293.9" width="35.7" height="32.1" fill="#6ad366"/>
<rect x="1482.6" y="1293.9" width="39.3" height="32.1" fill="#dcec46"/>
<rect x="1529.0" y="1293.9" width="35.7" height="32.1" fill="#60cf68"/>
<rect x="1571.8" y="1293.9" width="35.7" height="32.1" fill="#60cf68"/>
<rect x="1614.7" y="1293.9" width="39.3" height="32.1" fill="#4bb07c"/>
<rect x="1661.1" y="1293.9" width="35.7" height="32.1" fill="#60cf68"/>
<rect x="1704.0" y="1293.9" width="35.7" height="32.1" fill="#33768a"/>
<rect x="1746.8" y="1293.9" width="39.3" height="32.1" fill="#35728b"/>
<rect x="1793.2" y="1293.9" width="35.7" height="32.1" fill="#56be74"/>
<rect x="1836.1" y="1293.9" width="35.7" height="32.1" fill="#42a582"/>
<rect x="472.0" y="1333.2" width="35.7" height="28.6" fill="#403a80"/>
<rect x="514.8" y="1333.2" width="35.7" height="28.6" fill="#451866"/>
<rect x="557.7" y="1333.2" width="39.3" height="28.6" fill="#42317a"/>
<rect x="604.1" y="1333.2" width="35.7" height="28.6" fill="#451866"/>
<rect x="647.0" y="1333.2" width="35.7" height="28.6" fill="#451866"/>
<rect x="689.8" y="1333.2" width="39.3" height="28.6" fill="#440154"/>
<rect x="736.2" y="1333.2" width="35.7" height="28.6" fill="#44246c"/>
<rect x="779.1" y="1333.2" width="35.7" height="28.6" fill="#432b72"/>
<rect x="821.9" y="1333.2" width="39.3" height="28.6" fill="#3e4085"/>
<rect x="868.4" y="1333.2" width="35.7" height="28.6" fill="#33768a"/>
<rect x="911.2" y="1333.2" width="35.7" height="28.6" fill="#27908a"/>
<rect x="954.1" y="1333.2" width="39.3" height="28.6" fill="#2e9588"/>
<rect x="1000.5" y="1333.2" width="35.7" height="28.6" fill="#3b5689"/>
<rect x="1043.3" y="1333.2" width="35.7" height="28.6" fill="#3b5689"/>
<rect x="1086.2" y="1333.2" width="39.3" height="28.6" fill="#3e4085"/>
<rect x="1132.6" y="1333.2" width="35.7" height="28.6" fill="#3e4085"/>
<rect x="1175.5" y="1333.2" width="35.7" height="28.6" fill="#a0de59"/>
<rect x="1218.3" y="1333.2" width="39.3" height="28.6" fill="#7cd761"/>
<rect x="1264.7" y="1333.2" width="35.7" height="28.6" fill="#aee254"/>
<rect x="1307.6" y="1333.2" width="35.7" height="28.6" fill="#6ad366"/>
<rect x="1350.4" y="1333.2" width="39.3" height="28.6" fill="#6ad366"/>
<rect x="1396.9" y="1333.2" width="35.7" height="28.6" fill="#27908a"/>
<rect x="1439.7" y="1333.2" width="35.7" height="28.6" fill="#aee254"/>
<rect x="1482.6" y="1333.2" width="39.3" height="28.6" fill="#bae451"/>
<rect x="1529.0" y="1333.2" width="35.7" height="28.6" fill="#bae451"/>
<rect x="1571.8" y="1333.2" width="35.7" height="28.6" fill="#a0de59"/>
<rect x="1614.7" y="1333.2" width="39.3" height="28.6" fill="#349a86"/>
<rect x="1661.1" y="1333.2" width="35.7" height="28.6" fill="#6ad366"/>
<rect x="1704.0" y="1333.2" width="35.7" height="28.6" fill="#2b8a8a"/>
<rect x="1746.8" y="1333.2" width="39.3" height="28.6" fill="#60cf68"/>
<rect x="1793.2" y="1333.2" width="35.7" height="28.6" fill="#60cf68"/>
<rect x="1836.1" y="1333.2" width="35.7" height="28.6" fill="#56be74"/>
<rect x="472.0" y="1368.9" width="35.7" height="28.6" fill="#432b72"/>
<rect x="514.8" y="1368.9" width="35.7" height="28.6" fill="#451866"/>
<rect x="557.7" y="1368.9" width="39.3" height="28.6" fill="#44246c"/>
<rect x="604.1" y="1368.9" width="35.7" height="28.6" fill="#451866"/>
<rect x="647.0" y="1368.9" width="35.7" height="28.6" fill="#440154"/>
<rect x="689.8" y="1368.9" width="39.3" height="28.6" fill="#451866"/>
<rect x="736.2" y="1368.9" width="35.7" height="28.6" fill="#432b72"/>
<rect x="779.1" y="1368.9" width="35.7" height="28.6" fill="#44246c"/>
<rect x="821.9" y="1368.9" width="39.3" height="28.6" fill="#3e4085"/>
<rect x="868.4" y="1368.9" width="35.7" height="28.6" fill="#2b8a8a"/>
<rect x="911.2" y="1368.9" width="35.7" height="28.6" fill="#48ac7e"/>
<rect x="954.1" y="1368.9" width="39.3" height="28.6" fill="#7cd761"/>
<rect x="1000.5" y="1368.9" width="35.7" height="28.6" fill="#27908a"/>
<rect x="1043.3" y="1368.9" width="35.7" height="28.6" fill="#349a86"/>
<rect x="1086.2" y="1368.9" width="39.3" height="28.6" fill="#3e4085"/>
<rect x="1132.6" y="1368.9" width="35.7" height="28.6" fill="#3a5e8a"/>
<rect x="1175.5" y="1368.9" width="35.7" height="28.6" fill="#8ad95c"/>
<rect x="1218.3" y="1368.9" width="39.3" height="28.6" fill="#7cd761"/>
<rect x="1264.7" y="1368.9" width="35.7" height="28.6" fill="#8ad95c"/>
<rect x="1307.6" y="1368.9" width="35.7" height="28.6" fill="#60cf68"/>
<rect x="1350.4" y="1368.9" width="39.3" height="28.6" fill="#7cd761"/>
<rect x="1396.9" y="1368.9" width="35.7" height="28.6" fill="#2e838a"/>
<rect x="1439.7" y="1368.9" width="35.7" height="28.6" fill="#7cd761"/>
<rect x="1482.6" y="1368.9" width="39.3" height="28.6" fill="#c5e74e"/>
<rect x="1529.0" y="1368.9" width="35.7" height="28.6" fill="#8ad95c"/>
<rect x="1571.8" y="1368.9" width="35.7" height="28.6" fill="#56be74"/>
<rect x="1614.7" y="1368.9" width="39.3" height="28.6" fill="#2b8a8a"/>
<rect x="1661.1" y="1368.9" width="35.7" height="28.6" fill="#3da084"/>
<rect x="1704.0" y="1368.9" width="35.7" height="28.6" fill="#327e8a"/>
<rect x="1746.8" y="1368.9" width="39.3" height="28.6" fill="#3da084"/>
<rect x="1793.2" y="1368.9" width="35.7" height="28.6" fill="#4bb07c"/>
<rect x="1836.1" y="1368.9" width="35.7" height="28.6" fill="#6ad366"/>
<rect x="472.0" y="1404.6" width="35.7" height="32.1" fill="#403a80"/>
<rect x="514.8" y="1404.6" width="35.7" height="32.1" fill="#432b72"/>
<rect x="557.7" y="1404.6" width="39.3" height="32.1" fill="#432b72"/>
<rect x="604.1" y="1404.6" width="35.7" height="32.1" fill="#440154"/>
<rect x="647.0" y="1404.6" width="35.7" height="32.1" fill="#451866"/>
<rect x="689.8" y="1404.6" width="39.3" height="32.1" fill="#451866"/>
<rect x="736.2" y="1404.6" width="35.7" height="32.1" fill="#432b72"/>
<rect x="779.1" y="1404.6" width="35.7" height="32.1" fill="#432b72"/>
<rect x="821.9" y="1404.6" width="39.3" height="32.1" fill="#39668a"/>
<rect x="868.4" y="1404.6" width="35.7" height="32.1" fill="#60cf68"/>
<rect x="911.2" y="1404.6" width="35.7" height="32.1" fill="#27908a"/>
<rect x="954.1" y="1404.6" width="39.3" height="32.1" fill="#6ad366"/>
<rect x="1000.5" y="1404.6" width="35.7" height="32.1" fill="#327e8a"/>
<rect x="1043.3" y="1404.6" width="35.7" height="32.1" fill="#27908a"/>
<rect x="1086.2" y="1404.6" width="39.3" height="32.1" fill="#3e4085"/>
<rect x="1132.6" y="1404.6" width="35.7" height="32.1" fill="#3d4887"/>
<rect x="1175.5" y="1404.6" width="35.7" height="32.1" fill="#aee254"/>
<rect x="1218.3" y="1404.6" width="39.3" height="32.1" fill="#7cd761"/>
<rect x="1264.7" y="1404.6" width="35.7" height="32.1" fill="#aee254"/>
<rect x="1307.6" y="1404.6" width="35.7" height="32.1" fill="#50b778"/>
<rect x="1350.4" y="1404.6" width="39.3" height="32.1" fill="#50b778"/>
<rect x="1396.9" y="1404.6" width="35.7" height="32.1" fill="#3da084"/>
<rect x="1439.7" y="1404.6" width="35.7" height="32.1" fill="#8ad95c"/>
<rect x="1482.6" y="1404.6" width="39.3" height="32.1" fill="#fdf330"/>
<rect x="1529.0" y="1404.6" width="35.7" height="32.1" fill="#bae451"/>
<rect x="1571.8" y="1404.6" width="35.7" height="32.1" fill="#8ad95c"/>
<rect x="1614.7" y="1404.6" width="39.3" height="32.1" fill="#48ac7e"/>
<rect x="1661.1" y="1404.6" width="35.7" height="32.1" fill="#7cd761"/>
<rect x="1704.0" y="1404.6" width="35.7" height="32.1" fill="#27908a"/>
<rect x="1746.8" y="1404.6" width="39.3" height="32.1" fill="#48ac7e"/>
<rect x="1793.2" y="1404.6" width="35.7" height="32.1" fill="#7cd761"/>
<rect x="1836.1" y="1404.6" width="35.7" height="32.1" fill="#7cd761"/>
<rect x="472.0" y="1443.9" width="35.7" height="28.6" fill="#432b72"/>
<rect x="514.8" y="1443.9" width="35.7" height="28.6" fill="#42317a"/>
<rect x="557.7" y="1443.9" width="39.3" height="28.6" fill="#440154"/>
<rect x="604.1" y="1443.9" width="35.7" height="28.6" fill="#432b72"/>
<rect x="647.0" y="1443.9" width="35.7" height="28.6" fill="#44246c"/>
<rect x="689.8" y="1443.9" width="39.3" height="28.6" fill="#42317a"/>
<rect x="736.2" y="1443.9" width="35.7" height="28.6" fill="#432b72"/>
<rect x="779.1" y="1443.9" width="35.7" height="28.6" fill="#432b72"/>
<rect x="821.9" y="1443.9" width="39.3" height="28.6" fill="#3d4887"/>
<rect x="868.4" y="1443.9" width="35.7" height="28.6" fill="#2e838a"/>
<rect x="911.2" y="1443.9" width="35.7" height="28.6" fill="#2b8a8a"/>
<rect x="954.1" y="1443.9" width="39.3" height="28.6" fill="#7cd761"/>
<rect x="1000.5" y="1443.9" width="35.7" height="28.6" fill="#50b778"/>
<rect x="1043.3" y="1443.9" width="35.7" height="28.6" fill="#50b778"/>
<rect x="1086.2" y="1443.9" width="39.3" height="28.6" fill="#3a5e8a"/>
<rect x="1132.6" y="1443.9" width="35.7" height="28.6" fill="#3d4887"/>
<rect x="1175.5" y="1443.9" width="35.7" height="28.6" fill="#aee254"/>
<rect x="1218.3" y="1443.9" width="39.3" height="28.6" fill="#5ac66e"/>
<rect x="1264.7" y="1443.9" width="35.7" height="28.6" fill="#7cd761"/>
<rect x="1307.6" y="1443.9" width="35.7" height="28.6" fill="#60cf68"/>
<rect x="1350.4" y="1443.9" width="39.3" height="28.6" fill="#a0de59"/>
<rect x="1396.9" y="1443.9" width="35.7" height="28.6" fill="#50b778"/>
<rect x="1439.7" y="1443.9" width="35.7" height="28.6" fill="#349a86"/>
<rect x="1482.6" y="1443.9" width="39.3" height="28.6" fill="#a0de59"/>
<rect x="1529.0" y="1443.9" width="35.7" height="28.6" fill="#a0de59"/>
<rect x="1571.8" y="1443.9" width="35.7" height="28.6" fill="#bae451"/>
<rect x="1614.7" y="1443.9" width="39.3" height="28.6" fill="#3a5e8a"/>
<rect x="1661.1" y="1443.9" width="35.7" height="28.6" fill="#42a582"/>
<rect x="1704.0" y="1443.9" width="35.7" height="28.6" fill="#349a86"/>
<rect x="1746.8" y="1443.9" width="39.3" height="28.6" fill="#4bb07c"/>
<rect x="1793.2" y="1443.9" width="35.7" height="28.6" fill="#4bb07c"/>
<rect x="1836.1" y="1443.9" width="35.7" height="28.6" fill="#4bb07c"/>
<rect x="472.0" y="1479.6" width="35.7" height="32.1" fill="#44246c"/>
<rect x="514.8" y="1479.6" width="35.7" height="32.1" fill="#440154"/>
<rect x="557.7" y="1479.6" width="39.3" height="32.1" fill="#42317a"/>
<rect x="604.1" y="1479.6" width="35.7" height="32.1" fill="#432b72"/>
<rect x="647.0" y="1479.6" width="35.7" height="32.1" fill="#451866"/>
<rect x="689.8" y="1479.6" width="39.3" height="32.1" fill="#451866"/>
<rect x="736.2" y="1479.6" width="35.7" height="32.1" fill="#44246c"/>
<rect x="779.1" y="1479.6" width="35.7" height="32.1" fill="#432b72"/>
<rect x="821.9" y="1479.6" width="39.3" height="32.1" fill="#3a5e8a"/>
<rect x="868.4" y="1479.6" width="35.7" height="32.1" fill="#33768a"/>
<rect x="911.2" y="1479.6" width="35.7" height="32.1" fill="#2e9588"/>
<rect x="954.1" y="1479.6" width="39.3" height="32.1" fill="#39668a"/>
<rect x="1000.5" y="1479.6" width="35.7" height="32.1" fill="#3a5e8a"/>
<rect x="1043.3" y="1479.6" width="35.7" height="32.1" fill="#3a5e8a"/>
<rect x="1086.2" y="1479.6" width="39.3" height="32.1" fill="#3e4085"/>
<rect x="1132.6" y="1479.6" width="35.7" height="32.1" fill="#403a80"/>
<rect x="1175.5" y="1479.6" width="35.7" height="32.1" fill="#c5e74e"/>
<rect x="1218.3" y="1479.6" width="39.3" height="32.1" fill="#6ad366"/>
<rect x="1264.7" y="1479.6" width="35.7" height="32.1" fill="#8ad95c"/>
<rect x="1307.6" y="1479.6" width="35.7" height="32.1" fill="#7cd761"/>
<rect x="1350.4" y="1479.6" width="39.3" height="32.1" fill="#7cd761"/>
<rect x="1396.9" y="1479.6" width="35.7" height="32.1" fill="#42a582"/>
<rect x="1439.7" y="1479.6" width="35.7" height="32.1" fill="#6ad366"/>
<rect x="1482.6" y="1479.6" width="39.3" height="32.1" fill="#a0de59"/>
<rect x="1529.0" y="1479.6" width="35.7" height="32.1" fill="#60cf68"/>
<rect x="1571.8" y="1479.6" width="35.7" height="32.1" fill="#60cf68"/>
<rect x="1614.7" y="1479.6" width="39.3" height="32.1" fill="#3c4f88"/>
<rect x="1661.1" y="1479.6" width="35.7" height="32.1" fill="#3c4f88"/>
<rect x="1704.0" y="1479.6" width="35.7" height="32.1" fill="#39668a"/>
<rect x="1746.8" y="1479.6" width="39.3" height="32.1" fill="#376c8a"/>
<rect x="1793.2" y="1479.6" width="35.7" height="32.1" fill="#35728b"/>
<rect x="1836.1" y="1479.6" width="35.7" height="32.1" fill="#35728b"/>
<rect x="472.0" y="1518.9" width="35.7" height="28.6" fill="#440154"/>
<rect x="514.8" y="1518.9" width="35.7" height="28.6" fill="#44246c"/>
<rect x="557.7" y="1518.9" width="39.3" height="28.6" fill="#432b72"/>
<rect x="604.1" y="1518.9" width="35.7" height="28.6" fill="#403a80"/>
<rect x="647.0" y="1518.9" width="35.7" height="28.6" fill="#432b72"/>
<rect x="689.8" y="1518.9" width="39.3" height="28.6" fill="#403a80"/>
<rect x="736.2" y="1518.9" width="35.7" height="28.6" fill="#432b72"/>
<rect x="779.1" y="1518.9" width="35.7" height="28.6" fill="#42317a"/>
<rect x="821.9" y="1518.9" width="39.3" height="28.6" fill="#327e8a"/>
<rect x="868.4" y="1518.9" width="35.7" height="28.6" fill="#376c8a"/>
<rect x="911.2" y="1518.9" width="35.7" height="28.6" fill="#56be74"/>
<rect x="954.1" y="1518.9" width="39.3" height="28.6" fill="#4bb07c"/>
<rect x="1000.5" y="1518.9" width="35.7" height="28.6" fill="#2e838a"/>
<rect x="1043.3" y="1518.9" width="35.7" height="28.6" fill="#376c8a"/>
<rect x="1086.2" y="1518.9" width="39.3" height="28.6" fill="#327e8a"/>
<rect x="1132.6" y="1518.9" width="35.7" height="28.6" fill="#3c4f88"/>
<rect x="1175.5" y="1518.9" width="35.7" height="28.6" fill="#7cd761"/>
<rect x="1218.3" y="1518.9" width="39.3" height="28.6" fill="#a0de59"/>
<rect x="1264.7" y="1518.9" width="35.7" height="28.6" fill="#4bb07c"/>
<rect x="1307.6" y="1518.9" width="35.7" height="28.6" fill="#48ac7e"/>
<rect x="1350.4" y="1518.9" width="39.3" height="28.6" fill="#60cf68"/>
<rect x="1396.9" y="1518.9" width="35.7" height="28.6" fill="#3e4085"/>
<rect x="1439.7" y="1518.9" width="35.7" height="28.6" fill="#48ac7e"/>
<rect x="1482.6" y="1518.9" width="39.3" height="28.6" fill="#7cd761"/>
<rect x="1529.0" y="1518.9" width="35.7" height="28.6" fill="#56be74"/>
<rect x="1571.8" y="1518.9" width="35.7" height="28.6" fill="#7cd761"/>
<rect x="1614.7" y="1518.9" width="39.3" height="28.6" fill="#3a5e8a"/>
<rect x="1661.1" y="1518.9" width="35.7" height="28.6" fill="#39668a"/>
<rect x="1704.0" y="1518.9" width="35.7" height="28.6" fill="#3c4f88"/>
<rect x="1746.8" y="1518.9" width="39.3" height="28.6" fill="#35728b"/>
<rect x="1793.2" y="1518.9" width="35.7" height="28.6" fill="#42a582"/>
<rect x="1836.1" y="1518.9" width="35.7" height="28.6" fill="#35728b"/>
</g>
<g fill="#000" shape-rendering="crispEdges">
<rect x="486.3" y="247.4" width="50.0" height="7.1" fill="#000"/>
<rect x="486.3" y="247.4" width="7.1" height="103.6" fill="#000"/>
<rect x="529.1" y="247.4" width="7.1" height="103.6" fill="#000"/>
<rect x="661.2" y="276.0" width="50.0" height="7.1" fill="#000"/>
<rect x="661.2" y="276.0" width="7.1" height="75.0" fill="#000"/>
<rect x="704.1" y="276.0" width="7.1" height="75.0" fill="#000"/>
<rect x="618.4" y="272.4" width="71.4" height="7.1" fill="#000"/>
<rect x="618.4" y="272.4" width="7.1" height="78.6" fill="#000"/>
<rect x="682.7" y="272.4" width="7.1" height="10.7" fill="#000"/>
<rect x="750.5" y="268.9" width="50.0" height="7.1" fill="#000"/>
<rect x="750.5" y="268.9" width="7.1" height="82.1" fill="#000"/>
<rect x="793.4" y="268.9" width="7.1" height="82.1" fill="#000"/>
<rect x="650.5" y="247.4" width="128.6" height="7.1" fill="#000"/>
<rect x="650.5" y="247.4" width="7.1" height="32.1" fill="#000"/>
<rect x="771.9" y="247.4" width="7.1" height="28.6" fill="#000"/>
<rect x="572.0" y="240.3" width="146.4" height="7.1" fill="#000"/>
<rect x="572.0" y="240.3" width="7.1" height="110.7" fill="#000"/>
<rect x="711.2" y="240.3" width="7.1" height="14.3" fill="#000"/>
<rect x="507.7" y="204.6" width="141.1" height="7.1" fill="#000"/>
<rect x="507.7" y="204.6" width="7.1" height="50.0" fill="#000"/>
<rect x="641.6" y="204.6" width="7.1" height="42.9" fill="#000"/>
<rect x="1014.8" y="261.7" width="50.0" height="7.1" fill="#000"/>
<rect x="1014.8" y="261.7" width="7.1" height="89.3" fill="#000"/>
<rect x="1057.6" y="261.7" width="7.1" height="89.3" fill="#000"/>
<rect x="1100.5" y="258.1" width="53.6" height="7.1" fill="#000"/>
<rect x="1100.5" y="258.1" width="7.1" height="92.9" fill="#000"/>
<rect x="1146.9" y="258.1" width="7.1" height="92.9" fill="#000"/>
<rect x="1036.2" y="240.3" width="94.6" height="7.1" fill="#000"/>
<rect x="1036.2" y="240.3" width="7.1" height="28.6" fill="#000"/>
<rect x="1123.7" y="240.3" width="7.1" height="25.0" fill="#000"/>
<rect x="968.3" y="218.9" width="118.7" height="7.1" fill="#000"/>
<rect x="968.3" y="218.9" width="7.1" height="132.1" fill="#000"/>
<rect x="1079.9" y="218.9" width="7.1" height="28.6" fill="#000"/>
<rect x="925.5" y="211.7" width="105.8" height="7.1" fill="#000"/>
<rect x="925.5" y="211.7" width="7.1" height="139.3" fill="#000"/>
<rect x="1024.1" y="211.7" width="7.1" height="14.3" fill="#000"/>
<rect x="882.6" y="197.4" width="99.3" height="7.1" fill="#000"/>
<rect x="882.6" y="197.4" width="7.1" height="153.6" fill="#000"/>
<rect x="974.8" y="197.4" width="7.1" height="21.4" fill="#000"/>
<rect x="836.2" y="183.1" width="99.7" height="7.1" fill="#000"/>
<rect x="836.2" y="183.1" width="7.1" height="167.9" fill="#000"/>
<rect x="928.7" y="183.1" width="7.1" height="21.4" fill="#000"/>
<rect x="574.6" y="93.9" width="315.0" height="7.1" fill="#000"/>
<rect x="574.6" y="93.9" width="7.1" height="117.9" fill="#000"/>
<rect x="882.5" y="93.9" width="7.1" height="96.4" fill="#000"/>
<rect x="1321.9" y="247.4" width="50.0" height="7.1" fill="#000"/>
<rect x="1321.9" y="247.4" width="7.1" height="103.6" fill="#000"/>
<rect x="1364.7" y="247.4" width="7.1" height="103.6" fill="#000"/>
<rect x="1279.0" y="240.3" width="71.4" height="7.1" fill="#000"/>
<rect x="1279.0" y="240.3" width="7.1" height="110.7" fill="#000"/>
<rect x="1343.3" y="240.3" width="7.1" height="14.3" fill="#000"/>
<rect x="1232.6" y="215.3" width="85.7" height="7.1" fill="#000"/>
<rect x="1232.6" y="215.3" width="7.1" height="135.7" fill="#000"/>
<rect x="1311.2" y="215.3" width="7.1" height="32.1" fill="#000"/>
<rect x="1189.7" y="201.0" width="89.3" height="7.1" fill="#000"/>
<rect x="1189.7" y="201.0" width="7.1" height="150.0" fill="#000"/>
<rect x="1271.9" y="201.0" width="7.1" height="21.4" fill="#000"/>
<rect x="1454.0" y="229.6" width="50.0" height="7.1" fill="#000"/>
<rect x="1454.0" y="229.6" width="7.1" height="121.4" fill="#000"/>
<rect x="1496.8" y="229.6" width="7.1" height="121.4" fill="#000"/>
<rect x="1411.1" y="197.4" width="71.4" height="7.1" fill="#000"/>
<rect x="1411.1" y="197.4" width="7.1" height="153.6" fill="#000"/>
<rect x="1475.4" y="197.4" width="7.1" height="39.3" fill="#000"/>
<rect x="1230.8" y="186.7" width="219.6" height="7.1" fill="#000"/>
<rect x="1230.8" y="186.7" width="7.1" height="21.4" fill="#000"/>
<rect x="1443.3" y="186.7" width="7.1" height="17.9" fill="#000"/>
<rect x="1543.3" y="236.7" width="50.0" height="7.1" fill="#000"/>
<rect x="1543.3" y="236.7" width="7.1" height="114.3" fill="#000"/>
<rect x="1586.1" y="236.7" width="7.1" height="114.3" fill="#000"/>
<rect x="1629.0" y="247.4" width="53.6" height="7.1" fill="#000"/>
<rect x="1629.0" y="247.4" width="7.1" height="103.6" fill="#000"/>
<rect x="1675.4" y="247.4" width="7.1" height="103.6" fill="#000"/>
<rect x="1807.5" y="293.9" width="50.0" height="7.1" fill="#000"/>
<rect x="1807.5" y="293.9" width="7.1" height="57.1" fill="#000"/>
<rect x="1850.4" y="293.9" width="7.1" height="57.1" fill="#000"/>
<rect x="1761.1" y="243.9" width="75.0" height="7.1" fill="#000"/>
<rect x="1761.1" y="243.9" width="7.1" height="107.1" fill="#000"/>
<rect x="1829.0" y="243.9" width="7.1" height="57.1" fill="#000"/>
<rect x="1718.3" y="233.1" width="83.9" height="7.1" fill="#000"/>
<rect x="1718.3" y="233.1" width="7.1" height="117.9" fill="#000"/>
<rect x="1795.0" y="233.1" width="7.1" height="17.9" fill="#000"/>
<rect x="1652.2" y="204.6" width="111.6" height="7.1" fill="#000"/>
<rect x="1652.2" y="204.6" width="7.1" height="50.0" fill="#000"/>
<rect x="1756.6" y="204.6" width="7.1" height="35.7" fill="#000"/>
<rect x="1564.7" y="179.6" width="146.9" height="7.1" fill="#000"/>
<rect x="1564.7" y="179.6" width="7.1" height="64.3" fill="#000"/>
<rect x="1704.4" y="179.6" width="7.1" height="32.1" fill="#000"/>
<rect x="1337.0" y="68.9" width="304.7" height="7.1" fill="#000"/>
<rect x="1337.0" y="68.9" width="7.1" height="125.0" fill="#000"/>
<rect x="1634.6" y="68.9" width="7.1" height="117.9" fill="#000"/>
<rect x="728.6" y="22.4" width="764.4" height="7.1" fill="#000"/>
<rect x="728.6" y="22.4" width="7.1" height="78.6" fill="#000"/>
<rect x="1485.8" y="22.4" width="7.1" height="53.6" fill="#000"/>
<rect x="2007.5" y="1490.3" width="7.1" height="46.4" fill="#000"/>
<rect x="1893.2" y="1529.6" width="121.4" height="7.1" fill="#000"/>
<rect x="1893.2" y="1490.3" width="121.4" height="7.1" fill="#000"/>
<rect x="1971.8" y="1343.9" width="7.1" height="42.9" fill="#000"/>
<rect x="1893.2" y="1379.6" width="85.7" height="7.1" fill="#000"/>
<rect x="1893.2" y="1343.9" width="85.7" height="7.1" fill="#000"/>
<rect x="1978.9" y="1361.7" width="7.1" height="64.3" fill="#000"/>
<rect x="1893.2" y="1418.9" width="92.8" height="7.1" fill="#000"/>
<rect x="1971.8" y="1361.7" width="14.3" height="7.1" fill="#000"/>
<rect x="1982.5" y="1268.9" width="7.1" height="42.9" fill="#000"/>
<rect x="1893.2" y="1304.6" width="96.4" height="7.1" fill="#000"/>
<rect x="1893.2" y="1268.9" width="96.4" height="7.1" fill="#000"/>
<rect x="2011.1" y="1286.7" width="7.1" height="110.7" fill="#000"/>
<rect x="1978.9" y="1390.3" width="39.3" height="7.1" fill="#000"/>
<rect x="1982.5" y="1286.7" width="35.7" height="7.1" fill="#000"/>
<rect x="2018.2" y="1338.5" width="7.1" height="123.2" fill="#000"/>
<rect x="1893.2" y="1454.6" width="132.1" height="7.1" fill="#000"/>
<rect x="2011.1" y="1338.5" width="14.3" height="7.1" fill="#000"/>
<rect x="2057.5" y="1396.6" width="7.1" height="120.5" fill="#000"/>
<rect x="2007.5" y="1510.0" width="57.1" height="7.1" fill="#000"/>
<rect x="2018.2" y="1396.6" width="46.4" height="7.1" fill="#000"/>
<rect x="1993.2" y="1047.4" width="7.1" height="42.9" fill="#000"/>
<rect x="1893.2" y="1083.2" width="107.1" height="7.1" fill="#000"/>
<rect x="1893.2" y="1047.4" width="107.1" height="7.1" fill="#000"/>
<rect x="1996.8" y="972.4" width="7.1" height="42.9" fill="#000"/>
<rect x="1893.2" y="1008.2" width="110.7" height="7.1" fill="#000"/>
<rect x="1893.2" y="972.4" width="110.7" height="7.1" fill="#000"/>
<rect x="2014.6" y="990.3" width="7.1" height="82.1" fill="#000"/>
<rect x="1993.2" y="1065.3" width="28.6" height="7.1" fill="#000"/>
<rect x="1996.8" y="990.3" width="25.0" height="7.1" fill="#000"/>
<rect x="2043.2" y="1027.8" width="7.1" height="101.8" fill="#000"/>
<rect x="1893.2" y="1122.5" width="157.1" height="7.1" fill="#000"/>
<rect x="2014.6" y="1027.8" width="35.7" height="7.1" fill="#000"/>
<rect x="2050.4" y="1075.1" width="7.1" height="90.2" fill="#000"/>
<rect x="1893.2" y="1158.2" width="164.3" height="7.1" fill="#000"/>
<rect x="2043.2" y="1075.1" width="14.3" height="7.1" fill="#000"/>
<rect x="2068.2" y="1116.6" width="7.1" height="84.4" fill="#000"/>
<rect x="1893.2" y="1193.9" width="182.1" height="7.1" fill="#000"/>
<rect x="2050.4" y="1116.6" width="25.0" height="7.1" fill="#000"/>
<rect x="2086.1" y="1155.3" width="7.1" height="85.0" fill="#000"/>
<rect x="1893.2" y="1233.2" width="200.0" height="7.1" fill="#000"/>
<rect x="2068.2" y="1155.3" width="25.0" height="7.1" fill="#000"/>
<rect x="2189.6" y="1194.2" width="7.1" height="266.2" fill="#000"/>
<rect x="2057.5" y="1453.3" width="139.3" height="7.1" fill="#000"/>
<rect x="2086.1" y="1194.2" width="110.7" height="7.1" fill="#000"/>
<rect x="2007.5" y="786.7" width="7.1" height="46.4" fill="#000"/>
<rect x="1893.2" y="826.0" width="121.4" height="7.1" fill="#000"/>
<rect x="1893.2" y="786.7" width="121.4" height="7.1" fill="#000"/>
<rect x="2014.6" y="806.4" width="7.1" height="62.5" fill="#000"/>
<rect x="1893.2" y="861.7" width="128.6" height="7.1" fill="#000"/>
<rect x="2007.5" y="806.4" width="14.3" height="7.1" fill="#000"/>
<rect x="2043.2" y="834.1" width="7.1" height="70.5" fill="#000"/>
<rect x="1893.2" y="897.4" width="157.1" height="7.1" fill="#000"/>
<rect x="2014.6" y="834.1" width="35.7" height="7.1" fill="#000"/>
<rect x="2061.1" y="865.7" width="7.1" height="78.1" fill="#000"/>
<rect x="1893.2" y="936.7" width="175.0" height="7.1" fill="#000"/>
<rect x="2043.2" y="865.7" width="25.0" height="7.1" fill="#000"/>
<rect x="2028.9" y="676.0" width="7.1" height="42.9" fill="#000"/>
<rect x="1893.2" y="711.7" width="142.8" height="7.1" fill="#000"/>
<rect x="1893.2" y="676.0" width="142.8" height="7.1" fill="#000"/>
<rect x="2068.2" y="693.9" width="7.1" height="64.3" fill="#000"/>
<rect x="1893.2" y="751.0" width="182.1" height="7.1" fill="#000"/>
<rect x="2028.9" y="693.9" width="46.4" height="7.1" fill="#000"/>
<rect x="2078.9" y="722.4" width="7.1" height="185.9" fill="#000"/>
<rect x="2061.1" y="901.2" width="25.0" height="7.1" fill="#000"/>
<rect x="2068.2" y="722.4" width="17.9" height="7.1" fill="#000"/>
<rect x="2021.8" y="601.0" width="7.1" height="46.4" fill="#000"/>
<rect x="1893.2" y="640.3" width="135.7" height="7.1" fill="#000"/>
<rect x="1893.2" y="601.0" width="135.7" height="7.1" fill="#000"/>
<rect x="2007.5" y="529.6" width="7.1" height="42.9" fill="#000"/>
<rect x="1893.2" y="565.3" width="121.4" height="7.1" fill="#000"/>
<rect x="1893.2" y="529.6" width="121.4" height="7.1" fill="#000"/>
<rect x="1953.9" y="379.6" width="7.1" height="42.9" fill="#000"/>
<rect x="1893.2" y="415.3" width="67.8" height="7.1" fill="#000"/>
<rect x="1893.2" y="379.6" width="67.8" height="7.1" fill="#000"/>
<rect x="2011.1" y="397.4" width="7.1" height="64.3" fill="#000"/>
<rect x="1893.2" y="454.6" width="125.0" height="7.1" fill="#000"/>
<rect x="1953.9" y="397.4" width="64.3" height="7.1" fill="#000"/>
<rect x="2025.4" y="426.0" width="7.1" height="71.4" fill="#000"/>
<rect x="1893.2" y="490.3" width="139.3" height="7.1" fill="#000"/>
<rect x="2011.1" y="426.0" width="21.4" height="7.1" fill="#000"/>
<rect x="2057.5" y="458.2" width="7.1" height="96.4" fill="#000"/>
<rect x="2007.5" y="547.4" width="57.1" height="7.1" fill="#000"/>
<rect x="2025.4" y="458.2" width="39.3" height="7.1" fill="#000"/>
<rect x="2089.6" y="502.8" width="7.1" height="125.0" fill="#000"/>
<rect x="2021.8" y="620.7" width="75.0" height="7.1" fill="#000"/>
<rect x="2057.5" y="502.8" width="39.3" height="7.1" fill="#000"/>
<rect x="2218.2" y="561.7" width="7.1" height="257.3" fill="#000"/>
<rect x="2078.9" y="811.8" width="146.4" height="7.1" fill="#000"/>
<rect x="2089.6" y="561.7" width="135.7" height="7.1" fill="#000"/>
<rect x="2275.3" y="686.8" width="7.1" height="644.1" fill="#000"/>
<rect x="2189.6" y="1323.7" width="92.8" height="7.1" fill="#000"/>
<rect x="2218.2" y="686.8" width="64.3" height="7.1" fill="#000"/>
</g>
<g font-size="49.50" text-anchor="end">
<text x="453.2" y="400.8">stress</text>
<text x="453.2" y="433.4">anxiety</text>
<text x="453.2" y="475.6">mental</text>
<text x="453.2" y="508.2">psychologists</text>
<text x="453.2" y="543.7">coping</text>
<text x="453.2" y="575.8">cope</text>
<text x="453.2" y="622.7">ideation</text>
<text x="453.2" y="655.1">depression</text>
<text x="453.2" y="697.5">tension</text>
<text x="453.2" y="731.3">tensions</text>
<text x="453.2" y="761.6">empowers</text>
<text x="453.2" y="808.1">frustration</text>
<text x="453.2" y="837.0">anger</text>
<text x="453.2" y="872.5">grows</text>
<text x="453.2" y="918.7">confusion</text>
<text x="453.2" y="957.9">criticism</text>
<text x="453.2" y="993.7">love</text>
<text x="453.2" y="1025.8">hope</text>
<text x="453.2" y="1062.2">brightens</text>
<text x="453.2" y="1101.1">enjoy</text>
<text x="453.2" y="1133.2">guys</text>
<text x="453.2" y="1179.9">little</text>
<text x="453.2" y="1212.0">helps</text>
<text x="453.2" y="1247.1">glimmers</text>
<text x="453.2" y="1286.8">appreciation</text>
<text x="453.2" y="1322.4">gratitude</text>
<text x="453.2" y="1365.0">utensils</text>
<text x="453.2" y="1397.3">clapping</text>
<text x="453.2" y="1433.2">clap</text>
<text x="453.2" y="1468.9">applause</text>
<text x="453.2" y="1507.4">appreciating</text>
<text x="453.2" y="1544.3">tirelessly</text>
<text transform="translate(502.6 1565.0) rotate(-90)">tirelessly</text>
<text transform="translate(546.6 1565.0) rotate(-90)">appreciating</text>
<text transform="translate(590.6 1565.0) rotate(-90)">applause</text>
<text transform="translate(633.4 1565.0) rotate(-90)">clap</text>
<text transform="translate(678.6 1565.0) rotate(-90)">clapping</text>
<text transform="translate(727.5 1565.0) rotate(-90)">utensils</text>
<text transform="translate(767.9 1565.0) rotate(-90)">gratitude</text>
<text transform="translate(810.7 1565.0) rotate(-90)">appreciation</text>
<text transform="translate(854.7 1565.0) rotate(-90)">glimmers</text>
<text transform="translate(899.9 1565.0) rotate(-90)">helps</text>
<text transform="translate(947.5 1565.0) rotate(-90)">little</text>
<text transform="translate(982.9 1565.0) rotate(-90)">guys</text>
<text transform="translate(1031.8 1565.0) rotate(-90)">enjoy</text>
<text transform="translate(1075.8 1565.0) rotate(-90)">brightens</text>
<text transform="translate(1118.6 1565.0) rotate(-90)">hope</text>
<text transform="translate(1168.8 1565.0) rotate(-90)">love</text>
<text transform="translate(1211.5 1565.0) rotate(-90)">criticism</text>
<text transform="translate(1256.8 1565.0) rotate(-90)">confusion</text>
<text transform="translate(1289.8 1565.0) rotate(-90)">grows</text>
<text transform="translate(1336.3 1565.0) rotate(-90)">anger</text>
<text transform="translate(1389.5 1565.0) rotate(-90)">frustration</text>
<text transform="translate(1422.9 1565.0) rotate(-90)">empowers</text>
<text transform="translate(1476.6 1565.0) rotate(-90)">tensions</text>
<text transform="translate(1520.2 1565.0) rotate(-90)">tension</text>
<text transform="translate(1560.8 1565.0) rotate(-90)">depression</text>
<text transform="translate(1608.8 1565.0) rotate(-90)">ideation</text>
<text transform="translate(1643.6 1565.0) rotate(-90)">cope</text>
<text transform="translate(1690.1 1565.0) rotate(-90)">coping</text>
<text transform="translate(1735.1 1565.0) rotate(-90)">psychologists</text>
<text transform="translate(1784.4 1565.0) rotate(-90)">mental</text>
<text transform="translate(1823.6 1565.0) rotate(-90)">anxiety</text>
<text transform="translate(1871.5 1565.0) rotate(-90)">stress</text>
</g>
<defs><linearGradient id="cb" x1="0" x2="1" y1="0" y2="0">
<stop offset="0.0125" stop-color="#440154"/>
<stop offset="0.0375" stop-color="#440256"/>
<stop offset="0.0625" stop-color="#440257"/>
<stop offset="0.0875" stop-color="#440359"/>
<stop offset="0.1125" stop-color="#44045a"/>
<stop offset="0.1375" stop-color="#44055c"/>
<stop offset="0.1625" stop-color="#44055e"/>
<stop offset="0.1875" stop-color="#44075f"/>
<stop offset="0.2125" stop-color="#440c61"/>
<stop offset="0.2375" stop-color="#451163"/>
<stop offset="0.2625" stop-color="#451565"/>
<stop offset="0.2875" stop-color="#451a67"/>
<stop offset="0.3125" stop-color="#441f69"/>
<stop offset="0.3375" stop-color="#44246c"/>
<stop offset="0.3625" stop-color="#44276e"/>
<stop offset="0.3875" stop-color="#432a71"/>
<stop offset="0.4125" stop-color="#432d74"/>
<stop offset="0.4375" stop-color="#422f78"/>
<stop offset="0.4625" stop-color="#41347c"/>
<stop offset="0.4875" stop-color="#40387f"/>
<stop offset="0.5125" stop-color="#3f3c82"/>
<stop offset="0.5375" stop-color="#3f3e83"/>
<stop offset="0.5625" stop-color="#3e4085"/>
<stop offset="0.5875" stop-color="#3d4686"/>
<stop offset="0.6125" stop-color="#3c4d88"/>
<stop offset="0.6375" stop-color="#3a5b8a"/>
<stop offset="0.6625" stop-color="#39668a"/>
<stop offset="0.6875" stop-color="#33768a"/>
<stop offset="0.7125" stop-color="#2c878a"/>
<stop offset="0.7375" stop-color="#379c85"/>
<stop offset="0.7625" stop-color="#4cb27b"/>
<stop offset="0.7875" stop-color="#60cf68"/>
<stop offset="0.8125" stop-color="#6ed465"/>
<stop offset="0.8375" stop-color="#82d85f"/>
<stop offset="0.8625" stop-color="#99dc5a"/>
<stop offset="0.8875" stop-color="#b0e254"/>
<stop offset="0.9125" stop-color="#c1e64f"/>
<stop offset="0.9375" stop-color="#d8eb47"/>
<stop offset="0.9625" stop-color="#ecf03d"/>
<stop offset="0.9875" stop-color="#fdf330"/>
</linearGradient></defs>
<g shape-rendering="crispEdges">
<rect x="597.2" y="2007.8" width="1181.8" height="82.0" fill="url(#cb)"/>
<rect x="597.2" y="2007.8" width="3.6" height="17.8" fill="#fff"/>
<rect x="597.2" y="2068.4" width="3.6" height="21.4" fill="#fff"/>
<rect x="800.7" y="2007.8" width="3.6" height="17.8" fill="#fff"/>
<rect x="800.7" y="2068.4" width="3.6" height="21.4" fill="#fff"/>
<rect x="1006.0" y="2007.8" width="3.6" height="17.8" fill="#fff"/>
<rect x="1006.0" y="2068.4" width="3.6" height="21.4" fill="#fff"/>
<rect x="1211.3" y="2007.8" width="3.6" height="17.8" fill="#fff"/>
<rect x="1211.3" y="2068.4" width="3.6" height="21.4" fill="#fff"/>
<rect x="1416.6" y="2007.8" width="3.6" height="17.8" fill="#fff"/>
<rect x="1416.6" y="2068.4" width="3.6" height="21.4" fill="#fff"/>
<rect x="1621.9" y="2007.8" width="3.6" height="17.8" fill="#fff"/>
<rect x="1621.9" y="2068.4" width="3.6" height="21.4" fill="#fff"/>
</g>
<g font-size="63.00" text-anchor="middle">
<text x="598.2" y="2167.0">0.0</text>
<text x="803.5" y="2167.0">0.2</text>
<text x="1008.8" y="2167.0">0.4</text>
<text x="1214.1" y="2167.0">0.6</text>
<text x="1419.4" y="2167.0">0.8</text>
<text x="1624.7" y="2167.0">1.0</text>
</g>
</svg></body></html>
